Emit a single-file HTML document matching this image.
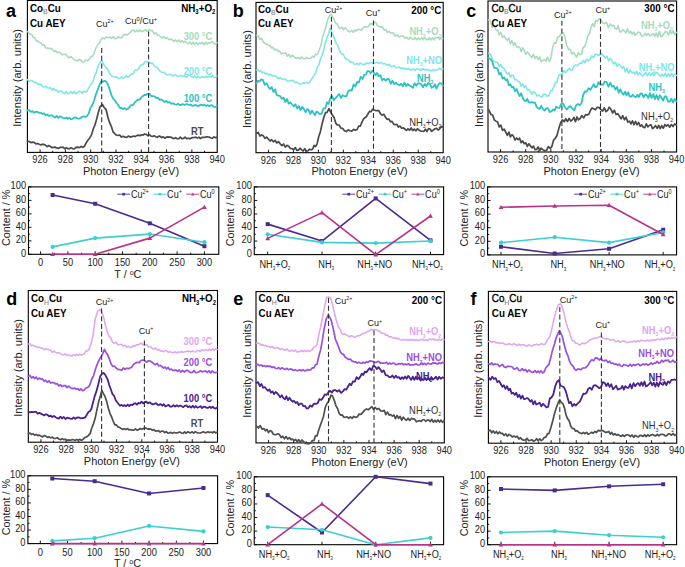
<!DOCTYPE html><html><head><meta charset="utf-8"><style>html,body{margin:0;padding:0;background:#fff;overflow:hidden}svg{display:block;font-family:"Liberation Sans",sans-serif}</style></head><body><svg width="685" height="567" viewBox="0 0 685 567" font-family="'Liberation Sans', sans-serif">
<rect width="685" height="567" fill="#fff"/>
<line x1="40.05" y1="152.40" x2="40.05" y2="149.40" stroke="#000" stroke-width="0.9" />
<line x1="52.71" y1="152.40" x2="52.71" y2="150.80" stroke="#000" stroke-width="0.9" />
<line x1="65.36" y1="152.40" x2="65.36" y2="149.40" stroke="#000" stroke-width="0.9" />
<line x1="78.01" y1="152.40" x2="78.01" y2="150.80" stroke="#000" stroke-width="0.9" />
<line x1="90.67" y1="152.40" x2="90.67" y2="149.40" stroke="#000" stroke-width="0.9" />
<line x1="103.32" y1="152.40" x2="103.32" y2="150.80" stroke="#000" stroke-width="0.9" />
<line x1="115.97" y1="152.40" x2="115.97" y2="149.40" stroke="#000" stroke-width="0.9" />
<line x1="128.63" y1="152.40" x2="128.63" y2="150.80" stroke="#000" stroke-width="0.9" />
<line x1="141.28" y1="152.40" x2="141.28" y2="149.40" stroke="#000" stroke-width="0.9" />
<line x1="153.93" y1="152.40" x2="153.93" y2="150.80" stroke="#000" stroke-width="0.9" />
<line x1="166.59" y1="152.40" x2="166.59" y2="149.40" stroke="#000" stroke-width="0.9" />
<line x1="179.24" y1="152.40" x2="179.24" y2="150.80" stroke="#000" stroke-width="0.9" />
<line x1="191.89" y1="152.40" x2="191.89" y2="149.40" stroke="#000" stroke-width="0.9" />
<line x1="204.55" y1="152.40" x2="204.55" y2="150.80" stroke="#000" stroke-width="0.9" />
<rect x="27.40" y="0.50" width="189.80" height="151.90" fill="none" stroke="#000" stroke-width="1.1"/>
<text transform="translate(40.05,163.20) scale(0.91,1)" font-size="10.2" text-anchor="middle" font-weight="normal" fill="#222" >926</text>
<text transform="translate(65.36,163.20) scale(0.91,1)" font-size="10.2" text-anchor="middle" font-weight="normal" fill="#222" >928</text>
<text transform="translate(90.67,163.20) scale(0.91,1)" font-size="10.2" text-anchor="middle" font-weight="normal" fill="#222" >930</text>
<text transform="translate(115.97,163.20) scale(0.91,1)" font-size="10.2" text-anchor="middle" font-weight="normal" fill="#222" >932</text>
<text transform="translate(141.28,163.20) scale(0.91,1)" font-size="10.2" text-anchor="middle" font-weight="normal" fill="#222" >934</text>
<text transform="translate(166.59,163.20) scale(0.91,1)" font-size="10.2" text-anchor="middle" font-weight="normal" fill="#222" >936</text>
<text transform="translate(191.89,163.20) scale(0.91,1)" font-size="10.2" text-anchor="middle" font-weight="normal" fill="#222" >938</text>
<text transform="translate(217.20,163.20) scale(0.91,1)" font-size="10.2" text-anchor="middle" font-weight="normal" fill="#222" >940</text>
<text x="131.00" y="175.00" font-size="10.95" text-anchor="middle" font-weight="normal" fill="#222" >Photon Energy (eV)</text>
<text x="21.40" y="77.95" font-size="11.15" text-anchor="middle" font-weight="normal" fill="#222" transform="rotate(-90 21.40 77.95)">Intensity (arb. units)</text>
<polyline points="27.40,31.50 30.00,34.00 31.55,34.15 33.10,37.53 34.65,37.43 36.20,40.95 37.75,40.74 39.30,42.60 40.88,42.75 42.47,45.00 44.05,44.45 45.63,47.98 47.22,48.03 48.80,48.60 50.50,48.31 52.20,49.15 53.90,51.45 55.60,50.66 57.30,52.87 59.00,51.99 60.70,53.30 62.40,54.85 64.10,54.22 65.80,54.34 67.50,56.58 69.20,57.95 70.90,56.58 72.60,58.00 74.17,59.76 75.73,60.07 77.30,60.95 78.87,59.46 80.43,59.80 82.00,61.70 83.83,62.11 85.65,59.85 87.47,60.73 89.30,59.30 90.87,56.33 92.43,56.40 94.00,53.30 95.80,48.29 97.60,45.00 99.40,43.21 101.20,39.00 102.97,37.92 104.75,38.88 106.53,37.04 108.30,37.90 109.97,36.88 111.64,38.48 113.31,36.48 114.99,38.86 116.66,38.54 118.33,36.51 120.00,37.90 121.70,37.75 123.40,34.87 125.10,34.41 126.80,35.04 128.50,33.93 130.20,32.67 131.90,30.70 133.60,29.86 135.30,32.00 137.00,30.09 138.70,31.60 140.40,29.94 142.10,31.75 143.80,30.70 145.60,29.82 147.40,31.34 149.20,29.69 151.00,30.70 152.58,30.47 154.17,33.95 155.75,32.42 157.33,35.19 158.92,35.28 160.50,36.70 162.20,37.86 163.90,36.65 165.60,38.67 167.30,37.75 169.00,39.88 170.70,38.83 172.40,40.20 173.99,41.36 175.58,39.93 177.17,41.60 178.76,39.93 180.34,42.15 181.93,40.55 183.52,42.49 185.11,41.19 186.70,42.60 188.29,43.87 189.88,41.90 191.47,44.41 193.06,42.20 194.64,44.34 196.23,42.40 197.82,44.59 199.41,42.96 201.00,43.80 202.60,42.37 204.20,44.85 205.80,42.06 207.40,44.15 209.00,42.79 210.60,42.64 212.20,41.56 213.80,43.42 215.40,44.13 217.00,42.60" fill="none" stroke="#a6dbbb" stroke-width="1.55" stroke-linejoin="round" stroke-linecap="round" />
<polyline points="27.40,79.50 29.10,81.40 30.80,80.44 32.50,80.54 34.20,82.87 35.90,82.03 37.60,84.11 39.30,84.30 40.88,84.19 42.47,86.76 44.05,86.95 45.63,86.11 47.22,87.67 48.80,87.90 50.39,87.78 51.98,90.11 53.57,88.61 55.16,90.36 56.74,90.04 58.33,92.29 59.92,91.04 61.51,91.00 63.10,92.60 64.69,93.78 66.28,91.53 67.87,93.84 69.46,93.10 71.04,91.60 72.63,93.43 74.22,91.41 75.81,93.71 77.40,92.60 78.98,91.25 80.57,91.43 82.15,93.19 83.73,91.01 85.32,92.25 86.90,91.40 88.40,88.52 89.90,86.06 91.40,83.64 92.90,81.90 94.47,76.14 96.03,73.19 97.60,67.60 99.65,63.16 101.70,60.50 103.85,64.59 106.00,67.60 107.57,68.80 109.13,72.82 110.70,74.80 112.30,76.58 113.90,76.86 115.50,77.10 117.00,77.10 118.50,78.50 120.00,78.30 121.58,76.77 123.17,78.36 124.75,77.72 126.33,75.62 127.92,77.39 129.50,76.00 131.30,73.82 133.10,73.96 134.90,70.28 136.70,70.00 138.36,69.35 140.02,66.10 141.68,64.53 143.34,64.34 145.00,61.70 146.50,61.61 148.00,61.81 149.50,63.26 151.00,62.90 152.78,63.35 154.55,66.51 156.32,66.57 158.10,68.80 159.68,70.82 161.27,71.84 162.85,72.79 164.43,72.24 166.02,74.44 167.60,74.80 169.30,74.21 171.00,74.68 172.70,76.02 174.40,75.00 176.10,75.07 177.80,76.56 179.50,76.00 181.20,75.24 182.90,76.60 184.60,75.80 186.30,77.33 188.00,75.26 189.70,75.34 191.40,76.70 193.10,77.51 194.80,75.93 196.50,77.95 198.20,76.35 199.90,77.81 201.60,76.66 203.30,77.10 204.82,77.43 206.34,76.29 207.87,77.25 209.39,76.06 210.91,77.26 212.43,75.43 213.96,77.42 215.48,77.14 217.00,76.00" fill="none" stroke="#7de6e6" stroke-width="1.55" stroke-linejoin="round" stroke-linecap="round" />
<polyline points="27.40,110.50 29.10,110.18 30.80,111.89 32.50,111.21 34.20,112.75 35.90,111.77 37.60,111.95 39.30,112.90 40.89,112.67 42.48,114.06 44.07,113.17 45.66,115.26 47.24,114.52 48.83,115.93 50.42,115.33 52.01,115.40 53.60,116.40 55.18,117.50 56.77,115.87 58.35,117.85 59.93,116.26 61.52,117.06 63.10,118.03 64.68,118.39 66.27,117.51 67.85,118.75 69.43,117.71 71.02,119.52 72.60,118.80 74.19,117.59 75.78,117.28 77.37,118.39 78.96,118.70 80.54,118.15 82.13,116.77 83.72,116.25 85.31,116.99 86.90,116.40 88.68,113.53 90.45,107.85 92.22,105.23 94.00,101.00 95.60,95.41 97.20,91.16 98.80,86.70 101.20,81.40 102.80,81.71 104.40,80.89 106.00,81.40 107.75,84.22 109.50,89.00 111.30,94.79 113.10,98.60 114.70,100.24 116.30,102.83 117.90,104.50 120.00,108.10 121.50,107.83 123.00,109.09 124.50,108.10 126.00,109.30 127.66,109.06 129.32,107.45 130.98,105.05 132.64,105.20 134.30,103.30 136.08,101.11 137.85,99.71 139.62,99.67 141.40,97.40 142.90,96.01 144.40,94.95 145.90,94.98 147.40,93.80 149.37,93.91 151.33,96.12 153.30,96.20 154.90,96.60 156.50,98.24 158.10,97.82 159.70,99.87 161.30,99.47 162.90,100.50 164.60,102.01 166.30,100.98 168.00,102.63 169.70,102.17 171.40,103.92 173.10,103.21 174.80,104.30 176.38,104.66 177.96,103.63 179.53,104.93 181.11,105.01 182.69,104.05 184.27,105.05 185.84,104.25 187.42,104.24 189.00,104.90 190.59,104.56 192.18,105.75 193.77,105.66 195.36,104.76 196.94,105.59 198.53,106.11 200.12,104.81 201.71,104.61 203.30,105.40 204.82,104.94 206.34,106.02 207.87,105.13 209.39,106.24 210.91,105.17 212.43,105.41 213.96,106.82 215.48,106.91 217.00,106.00" fill="none" stroke="#2dc3c3" stroke-width="1.8" stroke-linejoin="round" stroke-linecap="round" />
<polyline points="27.40,141.40 29.10,141.50 30.80,142.58 32.50,142.13 34.20,142.29 35.90,143.87 37.60,143.46 39.30,144.30 40.89,144.96 42.48,144.14 44.07,144.56 45.66,145.30 47.24,146.68 48.83,145.56 50.42,146.40 52.01,147.74 53.60,147.40 55.18,147.13 56.77,147.91 58.35,148.51 59.93,147.35 61.52,147.28 63.10,147.20 64.68,148.62 66.27,147.67 67.85,148.75 69.43,148.68 71.02,147.84 72.60,148.60 74.30,148.85 76.00,147.44 77.70,147.19 79.40,147.61 81.10,146.46 82.80,147.28 84.50,146.20 86.30,142.61 88.10,139.93 89.90,137.67 91.70,134.30 93.27,128.88 94.83,125.23 96.40,120.00 98.20,112.90 100.00,106.90 102.40,104.50 104.20,107.60 106.00,109.30 107.75,116.72 109.50,122.40 111.30,126.28 113.10,131.90 114.70,133.54 116.30,135.05 117.90,135.50 119.68,135.04 121.45,137.08 123.22,136.33 125.00,137.10 126.72,137.34 128.45,136.02 130.18,137.06 131.90,136.70 133.49,136.07 135.08,136.65 136.67,135.59 138.26,135.11 139.84,135.66 141.43,134.74 143.02,135.18 144.61,134.00 146.20,134.30 147.78,135.60 149.37,134.51 150.95,136.02 152.53,136.46 154.12,135.78 155.70,136.70 157.22,137.33 158.74,136.09 160.25,136.45 161.77,137.55 163.29,136.86 164.81,138.17 166.33,137.18 167.85,136.96 169.36,137.17 170.88,137.12 172.40,137.90 173.98,138.63 175.57,137.59 177.15,138.72 178.73,138.75 180.32,137.22 181.90,138.57 183.48,138.49 185.07,137.20 186.65,138.75 188.23,138.20 189.82,138.78 191.40,137.90 192.91,137.59 194.41,137.51 195.92,137.13 197.42,138.14 198.93,137.13 200.44,138.58 201.94,137.44 203.45,137.41 204.95,137.31 206.46,136.85 207.96,136.97 209.47,137.17 210.98,137.98 212.48,138.24 213.99,136.87 215.49,137.70 217.00,137.40" fill="none" stroke="#4a4a4a" stroke-width="1.7" stroke-linejoin="round" stroke-linecap="round" />
<line x1="101.70" y1="48.00" x2="101.70" y2="152.40" stroke="#333" stroke-width="1.1" stroke-dasharray="5,2.7"/>
<line x1="148.60" y1="31.50" x2="148.60" y2="152.40" stroke="#333" stroke-width="1.1" stroke-dasharray="5,2.7"/>
<text x="6.00" y="16.90" font-size="18" text-anchor="start" font-weight="bold" fill="#000" >a</text>
<text transform="translate(30.00,11.75) scale(0.87,1)" font-size="11.3" text-anchor="start" font-weight="bold" fill="#000" >Co<tspan dy="2.49" font-size="7.91" fill="#777" font-weight="normal" stroke="none">B</tspan><tspan dy="-2.49">Cu</tspan></text>
<text transform="translate(30.00,26.60) scale(0.87,1)" font-size="11.3" text-anchor="start" font-weight="bold" fill="#000" >Cu AEY</text>
<text transform="translate(215.30,11.70) scale(0.87,1)" font-size="11.3" text-anchor="end" font-weight="bold" fill="#000" >NH<tspan dy="2.49" font-size="6.78">3</tspan><tspan dy="-2.49">+O</tspan><tspan dy="2.49" font-size="6.78">2</tspan></text>
<text transform="translate(96.00,26.80) scale(0.93,1)" font-size="9.7" text-anchor="start" font-weight="normal" fill="#222" >Cu<tspan dy="-3.69" font-size="5.82">2+</tspan></text>
<text transform="translate(125.00,24.30) scale(0.93,1)" font-size="9.7" text-anchor="start" font-weight="normal" fill="#222" >Cu<tspan dy="-3.6" font-size="6.2">0</tspan><tspan dy="3.6">/Cu</tspan><tspan dy="-3.6" font-size="6.2">+</tspan></text>
<text transform="translate(212.30,40.00) scale(0.85,1)" font-size="11.0" text-anchor="end" font-weight="bold" fill="#a6dbbb" >300 °C</text>
<text transform="translate(212.30,74.80) scale(0.85,1)" font-size="11.0" text-anchor="end" font-weight="bold" fill="#7de6e6" >200 °C</text>
<text transform="translate(212.30,102.00) scale(0.85,1)" font-size="11.0" text-anchor="end" font-weight="bold" fill="#2dc3c3" >100 °C</text>
<text transform="translate(203.50,134.80) scale(0.85,1)" font-size="11.0" text-anchor="end" font-weight="bold" fill="#4a4a4a" >RT</text>
<line x1="268.48" y1="152.70" x2="268.48" y2="149.70" stroke="#000" stroke-width="0.9" />
<line x1="280.96" y1="152.70" x2="280.96" y2="151.10" stroke="#000" stroke-width="0.9" />
<line x1="293.44" y1="152.70" x2="293.44" y2="149.70" stroke="#000" stroke-width="0.9" />
<line x1="305.92" y1="152.70" x2="305.92" y2="151.10" stroke="#000" stroke-width="0.9" />
<line x1="318.40" y1="152.70" x2="318.40" y2="149.70" stroke="#000" stroke-width="0.9" />
<line x1="330.88" y1="152.70" x2="330.88" y2="151.10" stroke="#000" stroke-width="0.9" />
<line x1="343.36" y1="152.70" x2="343.36" y2="149.70" stroke="#000" stroke-width="0.9" />
<line x1="355.84" y1="152.70" x2="355.84" y2="151.10" stroke="#000" stroke-width="0.9" />
<line x1="368.32" y1="152.70" x2="368.32" y2="149.70" stroke="#000" stroke-width="0.9" />
<line x1="380.80" y1="152.70" x2="380.80" y2="151.10" stroke="#000" stroke-width="0.9" />
<line x1="393.28" y1="152.70" x2="393.28" y2="149.70" stroke="#000" stroke-width="0.9" />
<line x1="405.76" y1="152.70" x2="405.76" y2="151.10" stroke="#000" stroke-width="0.9" />
<line x1="418.24" y1="152.70" x2="418.24" y2="149.70" stroke="#000" stroke-width="0.9" />
<line x1="430.72" y1="152.70" x2="430.72" y2="151.10" stroke="#000" stroke-width="0.9" />
<rect x="256.00" y="2.40" width="187.20" height="150.30" fill="none" stroke="#000" stroke-width="1.1"/>
<text transform="translate(268.48,163.50) scale(0.91,1)" font-size="10.2" text-anchor="middle" font-weight="normal" fill="#222" >926</text>
<text transform="translate(293.44,163.50) scale(0.91,1)" font-size="10.2" text-anchor="middle" font-weight="normal" fill="#222" >928</text>
<text transform="translate(318.40,163.50) scale(0.91,1)" font-size="10.2" text-anchor="middle" font-weight="normal" fill="#222" >930</text>
<text transform="translate(343.36,163.50) scale(0.91,1)" font-size="10.2" text-anchor="middle" font-weight="normal" fill="#222" >932</text>
<text transform="translate(368.32,163.50) scale(0.91,1)" font-size="10.2" text-anchor="middle" font-weight="normal" fill="#222" >934</text>
<text transform="translate(393.28,163.50) scale(0.91,1)" font-size="10.2" text-anchor="middle" font-weight="normal" fill="#222" >936</text>
<text transform="translate(418.24,163.50) scale(0.91,1)" font-size="10.2" text-anchor="middle" font-weight="normal" fill="#222" >938</text>
<text transform="translate(443.20,163.50) scale(0.91,1)" font-size="10.2" text-anchor="middle" font-weight="normal" fill="#222" >940</text>
<text x="359.60" y="175.30" font-size="10.95" text-anchor="middle" font-weight="normal" fill="#222" >Photon Energy (eV)</text>
<text x="250.80" y="79.05" font-size="11.15" text-anchor="middle" font-weight="normal" fill="#222" transform="rotate(-90 250.80 79.05)">Intensity (arb. units)</text>
<polyline points="256.50,35.50 258.19,35.79 259.87,39.57 261.56,38.38 263.24,41.87 264.93,43.44 266.61,44.30 268.30,45.20 269.89,45.48 271.48,47.93 273.07,47.31 274.66,50.07 276.24,49.17 277.83,51.11 279.42,51.00 281.01,53.62 282.60,53.30 284.19,53.25 285.78,53.14 287.37,56.21 288.96,54.40 290.54,57.26 292.13,55.18 293.72,56.37 295.31,58.10 296.90,58.10 298.48,57.66 300.06,59.06 301.63,57.06 303.21,58.78 304.79,58.94 306.37,57.26 307.94,58.53 309.52,58.50 311.10,58.10 312.60,56.00 314.10,57.44 315.60,54.46 317.10,54.50 318.90,50.77 320.70,46.20 322.45,37.74 324.20,31.90 326.00,26.76 327.80,19.40 330.20,14.60 331.50,14.60 334.00,19.20 335.50,23.13 337.00,23.75 338.50,27.10 340.18,28.71 341.86,26.96 343.54,29.75 345.22,27.72 346.90,29.50 348.45,31.41 350.00,31.90 351.58,30.23 353.17,32.38 354.75,30.02 356.33,30.85 357.92,29.38 359.50,29.50 361.30,30.25 363.10,27.88 364.90,26.80 366.70,27.10 368.48,26.53 370.25,23.57 372.02,24.36 373.80,22.40 375.60,22.31 377.40,25.61 379.20,26.43 381.00,27.10 382.58,26.80 384.17,30.24 385.75,29.30 387.33,32.30 388.92,31.28 390.50,33.10 392.08,32.49 393.67,33.48 395.25,35.99 396.83,34.84 398.42,36.62 400.00,36.70 401.70,35.63 403.40,36.26 405.10,38.22 406.80,37.15 408.50,39.28 410.20,37.19 411.90,38.60 413.49,39.70 415.08,37.57 416.67,39.80 418.26,37.93 419.84,39.87 421.43,37.57 423.02,39.85 424.61,38.05 426.20,39.00 427.72,39.99 429.24,37.76 430.75,40.04 432.27,37.85 433.79,40.00 435.31,37.59 436.83,37.70 438.35,37.40 439.86,39.56 441.38,37.45 442.90,38.60" fill="none" stroke="#a6dbbb" stroke-width="1.55" stroke-linejoin="round" stroke-linecap="round" />
<polyline points="256.50,70.00 258.00,69.68 259.50,71.55 261.00,70.89 262.50,73.00 264.00,71.90 265.50,74.12 267.00,73.25 268.50,75.13 270.00,74.24 271.50,74.99 273.00,76.00 274.52,75.66 276.04,76.34 277.55,78.13 279.07,78.30 280.59,77.72 282.11,79.05 283.63,79.69 285.15,78.67 286.66,80.79 288.18,80.92 289.70,80.70 291.40,80.37 293.10,80.61 294.80,82.56 296.50,81.98 298.20,83.25 299.90,84.01 301.60,83.80 303.28,82.67 304.96,83.46 306.64,82.29 308.32,83.17 310.00,81.90 311.97,78.45 313.93,75.85 315.90,72.40 317.40,67.30 318.90,64.54 320.40,59.32 321.90,55.70 323.47,51.12 325.03,43.99 326.60,39.00 328.40,34.21 330.20,28.30 332.00,32.95 333.80,36.70 335.77,42.38 337.73,45.32 339.70,51.00 341.50,53.94 343.30,54.51 345.10,58.00 346.90,59.30 348.67,60.14 350.45,62.12 352.23,61.99 354.00,64.00 355.58,64.29 357.16,63.30 358.74,64.46 360.32,63.06 361.90,64.00 363.49,64.39 365.08,64.36 366.67,62.85 368.26,63.67 369.84,62.62 371.43,62.43 373.02,63.72 374.61,63.12 376.20,62.40 377.78,62.16 379.37,63.56 380.95,62.26 382.53,63.75 384.12,63.42 385.70,64.00 387.40,65.34 389.10,64.24 390.80,66.49 392.50,66.38 394.20,65.62 395.90,67.66 397.60,67.60 399.19,66.95 400.78,68.63 402.37,67.70 403.96,69.17 405.54,68.28 407.13,69.21 408.72,68.34 410.31,70.21 411.90,69.50 413.42,68.77 414.94,70.46 416.45,68.92 417.97,68.76 419.49,69.13 421.01,70.61 422.53,68.87 424.05,69.27 425.56,70.50 427.08,69.17 428.60,70.00 430.19,70.71 431.78,70.21 433.37,69.93 434.96,69.94 436.54,69.92 438.13,69.50 439.72,68.21 441.31,69.59 442.90,68.80" fill="none" stroke="#7de6e6" stroke-width="1.55" stroke-linejoin="round" stroke-linecap="round" />
<polyline points="256.50,83.10 258.03,80.86 259.57,81.59 261.10,79.50 262.90,79.84 264.70,84.84 266.50,83.30 268.30,86.70 270.00,88.98 271.70,87.05 273.40,91.96 275.10,89.53 276.80,95.01 278.50,95.68 280.20,96.20 281.90,98.70 283.60,97.59 285.30,102.10 287.00,99.06 288.70,103.60 290.40,102.44 292.10,104.50 293.80,106.34 295.50,104.29 297.20,108.45 298.90,105.91 300.60,110.04 302.30,106.74 304.00,109.30 305.58,112.36 307.17,109.19 308.75,110.12 310.33,113.93 311.92,110.60 313.50,112.90 315.00,115.23 316.50,111.58 318.00,112.36 319.50,114.00 321.47,113.94 323.43,108.43 325.40,108.10 327.00,102.34 328.60,103.81 330.20,98.60 331.98,95.88 333.75,100.09 335.52,98.10 337.30,96.20 339.10,94.15 340.90,97.85 342.70,95.22 344.50,96.20 346.33,96.45 348.17,90.97 350.00,90.20 351.77,90.57 353.55,84.42 355.33,86.45 357.10,81.90 358.90,82.56 360.70,76.79 362.50,79.05 364.30,74.80 365.87,74.64 367.43,71.20 369.00,71.20 370.60,73.30 372.20,70.74 373.80,72.40 375.40,75.17 377.00,72.95 378.60,76.00 380.38,75.08 382.15,80.30 383.93,78.67 385.70,80.70 387.40,78.94 389.10,79.42 390.80,83.77 392.50,80.77 394.20,84.15 395.90,82.72 397.60,84.30 399.30,85.32 401.00,83.60 402.70,86.27 404.40,82.53 406.10,86.20 407.80,83.90 409.50,85.50 411.20,86.32 412.90,87.84 414.60,83.29 416.30,85.76 418.00,83.38 419.70,83.41 421.40,84.30 423.10,87.25 424.80,83.95 426.50,86.13 428.20,83.01 429.90,83.91 431.60,87.82 433.30,86.70 434.90,84.24 436.50,88.57 438.10,84.92 439.70,83.23 441.30,83.38 442.90,85.50" fill="none" stroke="#2dc3c3" stroke-width="1.8" stroke-linejoin="round" stroke-linecap="round" />
<polyline points="256.50,133.10 258.19,132.45 259.87,135.99 261.56,134.93 263.24,135.82 264.93,138.25 266.61,137.19 268.30,139.00 270.00,141.03 271.70,139.69 273.40,141.78 275.10,140.32 276.80,142.98 278.50,141.59 280.20,143.80 281.90,145.60 283.60,144.02 285.30,147.05 287.00,145.40 288.70,146.16 290.40,148.41 292.10,148.60 293.68,149.76 295.27,147.53 296.85,150.43 298.43,150.14 300.02,148.20 301.60,149.80 303.18,151.07 304.77,148.61 306.35,151.27 307.93,150.78 309.52,149.21 311.10,149.80 312.60,149.29 314.10,145.38 315.60,146.50 317.10,143.80 318.70,136.77 320.30,131.94 321.90,124.80 323.65,117.96 325.40,112.90 327.20,112.10 329.00,108.60 330.80,112.52 332.60,115.20 334.17,117.79 335.73,123.10 337.30,124.80 339.10,125.00 340.90,128.19 342.70,128.42 344.50,130.70 346.33,131.61 348.17,129.82 350.00,130.70 351.77,131.29 353.55,129.36 355.33,130.32 357.10,129.50 358.70,126.13 360.30,126.08 361.90,122.40 363.40,119.09 364.90,117.71 366.40,116.68 367.90,114.00 369.47,111.37 371.03,111.68 372.60,109.30 374.10,110.03 375.60,110.56 377.10,110.66 378.60,110.50 380.38,113.54 382.15,115.12 383.93,114.33 385.70,117.60 387.28,119.32 388.87,119.03 390.45,121.80 392.03,121.33 393.62,124.16 395.20,124.80 396.80,124.27 398.40,127.15 400.00,126.08 401.60,128.24 403.20,127.76 404.80,129.00 406.38,130.32 407.96,128.77 409.53,130.24 411.11,127.95 412.69,130.54 414.27,129.02 415.84,130.78 417.42,128.75 419.00,130.00 420.59,131.10 422.18,131.25 423.77,131.51 425.36,129.25 426.94,131.50 428.53,128.53 430.12,129.00 431.71,131.48 433.30,130.00 434.90,128.76 436.50,128.39 438.10,130.03 439.70,128.84 441.30,126.48 442.90,127.10" fill="none" stroke="#4a4a4a" stroke-width="1.7" stroke-linejoin="round" stroke-linecap="round" />
<line x1="331.40" y1="16.80" x2="331.40" y2="152.70" stroke="#333" stroke-width="1.1" stroke-dasharray="5,2.7"/>
<line x1="373.50" y1="20.60" x2="373.50" y2="152.70" stroke="#333" stroke-width="1.1" stroke-dasharray="5,2.7"/>
<text x="232.70" y="16.90" font-size="18" text-anchor="start" font-weight="bold" fill="#000" >b</text>
<text transform="translate(257.90,12.60) scale(0.87,1)" font-size="11.3" text-anchor="start" font-weight="bold" fill="#000" >Co<tspan dy="2.49" font-size="7.91" fill="#777" font-weight="normal" stroke="none">B</tspan><tspan dy="-2.49">Cu</tspan></text>
<text transform="translate(257.90,27.30) scale(0.87,1)" font-size="11.3" text-anchor="start" font-weight="bold" fill="#000" >Cu AEY</text>
<text transform="translate(441.40,13.60) scale(0.87,1)" font-size="11.3" text-anchor="end" font-weight="bold" fill="#000" >200 °C</text>
<text transform="translate(324.70,13.20) scale(0.93,1)" font-size="9.7" text-anchor="start" font-weight="normal" fill="#222" >Cu<tspan dy="-3.69" font-size="5.82">2+</tspan></text>
<text transform="translate(365.70,16.00) scale(0.93,1)" font-size="9.7" text-anchor="start" font-weight="normal" fill="#222" >Cu<tspan dy="-3.69" font-size="5.82">+</tspan></text>
<text transform="translate(441.30,35.40) scale(0.85,1)" font-size="11.0" text-anchor="end" font-weight="bold" fill="#a6dbbb" >NH<tspan dy="2.42" font-size="6.05">3</tspan><tspan dy="-2.42">+O</tspan><tspan dy="2.42" font-size="6.05">2</tspan></text>
<text transform="translate(442.00,64.00) scale(0.85,1)" font-size="11.0" text-anchor="end" font-weight="bold" fill="#7de6e6" >NH<tspan dy="2.42" font-size="6.05">3</tspan><tspan dy="-2.42">+NO</tspan></text>
<text transform="translate(433.30,81.80) scale(0.85,1)" font-size="11.0" text-anchor="end" font-weight="bold" fill="#2dc3c3" >NH<tspan dy="2.42" font-size="6.05">3</tspan><tspan dy="-2.42"></tspan></text>
<text transform="translate(441.30,126.10) scale(0.92,1)" font-size="10.2" text-anchor="end" font-weight="normal" fill="#333" >NH<tspan dy="2.24" font-size="5.61">3</tspan><tspan dy="-2.24">+O</tspan><tspan dy="2.24" font-size="5.61">2</tspan></text>
<line x1="500.57" y1="152.00" x2="500.57" y2="149.00" stroke="#000" stroke-width="0.9" />
<line x1="513.15" y1="152.00" x2="513.15" y2="150.40" stroke="#000" stroke-width="0.9" />
<line x1="525.72" y1="152.00" x2="525.72" y2="149.00" stroke="#000" stroke-width="0.9" />
<line x1="538.29" y1="152.00" x2="538.29" y2="150.40" stroke="#000" stroke-width="0.9" />
<line x1="550.87" y1="152.00" x2="550.87" y2="149.00" stroke="#000" stroke-width="0.9" />
<line x1="563.44" y1="152.00" x2="563.44" y2="150.40" stroke="#000" stroke-width="0.9" />
<line x1="576.01" y1="152.00" x2="576.01" y2="149.00" stroke="#000" stroke-width="0.9" />
<line x1="588.59" y1="152.00" x2="588.59" y2="150.40" stroke="#000" stroke-width="0.9" />
<line x1="601.16" y1="152.00" x2="601.16" y2="149.00" stroke="#000" stroke-width="0.9" />
<line x1="613.73" y1="152.00" x2="613.73" y2="150.40" stroke="#000" stroke-width="0.9" />
<line x1="626.31" y1="152.00" x2="626.31" y2="149.00" stroke="#000" stroke-width="0.9" />
<line x1="638.88" y1="152.00" x2="638.88" y2="150.40" stroke="#000" stroke-width="0.9" />
<line x1="651.45" y1="152.00" x2="651.45" y2="149.00" stroke="#000" stroke-width="0.9" />
<line x1="664.03" y1="152.00" x2="664.03" y2="150.40" stroke="#000" stroke-width="0.9" />
<rect x="488.00" y="1.00" width="188.60" height="151.00" fill="none" stroke="#000" stroke-width="1.1"/>
<text transform="translate(500.57,162.80) scale(0.91,1)" font-size="10.2" text-anchor="middle" font-weight="normal" fill="#222" >926</text>
<text transform="translate(525.72,162.80) scale(0.91,1)" font-size="10.2" text-anchor="middle" font-weight="normal" fill="#222" >928</text>
<text transform="translate(550.87,162.80) scale(0.91,1)" font-size="10.2" text-anchor="middle" font-weight="normal" fill="#222" >930</text>
<text transform="translate(576.01,162.80) scale(0.91,1)" font-size="10.2" text-anchor="middle" font-weight="normal" fill="#222" >932</text>
<text transform="translate(601.16,162.80) scale(0.91,1)" font-size="10.2" text-anchor="middle" font-weight="normal" fill="#222" >934</text>
<text transform="translate(626.31,162.80) scale(0.91,1)" font-size="10.2" text-anchor="middle" font-weight="normal" fill="#222" >936</text>
<text transform="translate(651.45,162.80) scale(0.91,1)" font-size="10.2" text-anchor="middle" font-weight="normal" fill="#222" >938</text>
<text transform="translate(676.60,162.80) scale(0.91,1)" font-size="10.2" text-anchor="middle" font-weight="normal" fill="#222" >940</text>
<text x="591.60" y="174.60" font-size="10.95" text-anchor="middle" font-weight="normal" fill="#222" >Photon Energy (eV)</text>
<text x="482.50" y="78.00" font-size="11.15" text-anchor="middle" font-weight="normal" fill="#222" transform="rotate(-90 482.50 78.00)">Intensity (arb. units)</text>
<polyline points="488.50,19.90 490.35,20.80 492.20,27.45 494.05,25.48 495.90,29.80 497.55,30.28 499.20,34.78 500.85,32.56 502.50,37.34 504.15,35.92 505.80,38.50 507.34,40.61 508.88,37.93 510.41,44.14 511.95,40.45 513.49,45.28 515.02,42.64 516.56,47.01 518.10,47.10 519.64,46.94 521.17,51.73 522.71,47.68 524.25,50.49 525.79,54.30 527.33,51.87 528.86,53.59 530.40,55.70 531.95,57.38 533.50,54.29 535.05,58.39 536.60,56.28 538.15,59.80 539.70,56.73 541.25,61.70 542.80,60.70 544.38,59.45 545.96,61.34 547.54,57.13 549.12,61.61 550.70,59.40 552.70,47.10 554.33,42.69 555.97,43.37 557.60,37.20 559.45,36.40 561.30,33.50 563.15,32.57 565.00,37.20 566.85,45.47 568.70,49.60 570.25,49.26 571.80,54.08 573.35,52.29 574.90,54.50 576.60,57.10 578.30,52.76 580.00,54.50 581.55,54.28 583.10,47.51 584.65,46.76 586.20,42.20 587.83,35.99 589.47,33.74 591.10,27.30 592.65,23.67 594.20,26.68 595.75,20.30 597.30,21.20 599.15,18.72 601.00,19.90 602.85,23.07 604.70,23.60 606.55,22.54 608.40,27.66 610.25,23.90 612.10,26.10 613.64,25.14 615.17,28.48 616.71,29.28 618.25,25.72 619.79,31.93 621.33,31.84 622.86,29.46 624.40,31.00 625.95,32.92 627.50,28.81 629.05,33.03 630.60,31.16 632.15,34.52 633.70,31.94 635.25,35.45 636.80,33.50 638.44,32.05 640.09,32.64 641.73,36.34 643.38,35.91 645.02,33.32 646.67,35.53 648.31,33.54 649.96,35.92 651.60,34.80 653.15,33.47 654.70,36.44 656.25,33.15 657.80,36.92 659.35,31.23 660.90,36.69 662.45,35.59 664.00,33.50 665.54,31.43 667.08,32.26 668.61,34.98 670.15,30.59 671.69,33.76 673.22,30.86 674.76,34.57 676.30,32.30" fill="none" stroke="#a6dbbb" stroke-width="1.55" stroke-linejoin="round" stroke-linecap="round" />
<polyline points="488.50,53.30 490.35,54.08 492.20,58.60 494.05,61.79 495.90,61.90 497.55,62.63 499.20,66.40 500.85,64.59 502.50,67.77 504.15,68.48 505.80,71.80 507.34,74.17 508.88,72.85 510.41,77.28 511.95,74.80 513.49,75.70 515.02,79.95 516.56,79.59 518.10,81.70 519.64,81.76 521.17,86.32 522.71,83.80 524.25,87.36 525.79,85.75 527.33,90.08 528.86,89.56 530.40,91.50 532.05,94.37 533.70,91.62 535.35,93.10 537.00,96.12 538.65,94.83 540.30,96.50 542.04,97.05 543.78,93.97 545.52,94.34 547.26,96.52 549.00,95.20 550.63,90.64 552.27,90.32 553.90,86.60 555.45,82.60 557.00,82.49 558.55,75.91 560.10,74.30 561.95,74.76 563.80,70.60 565.65,72.71 567.50,70.60 569.15,68.36 570.80,70.24 572.45,69.89 574.10,65.73 575.75,64.90 577.40,65.60 580.00,63.10 581.65,63.24 583.30,60.44 584.95,62.61 586.60,59.07 588.25,60.95 589.90,59.40 591.75,55.89 593.60,57.66 595.45,54.17 597.30,54.50 598.85,55.61 600.40,53.68 601.95,53.93 603.50,55.70 605.22,58.09 606.94,56.29 608.66,60.87 610.38,58.33 612.10,60.70 613.75,64.12 615.40,62.12 617.05,66.21 618.70,63.99 620.35,65.41 622.00,68.10 623.65,66.64 625.30,71.83 626.95,68.40 628.60,73.56 630.25,69.91 631.90,73.00 633.44,72.03 634.98,74.21 636.51,71.28 638.05,74.89 639.59,72.83 641.12,74.79 642.66,76.29 644.20,74.30 645.84,72.45 647.49,75.94 649.13,72.69 650.78,75.62 652.42,72.87 654.07,75.64 655.71,72.56 657.36,72.99 659.00,74.80 660.57,76.23 662.15,74.18 663.72,76.41 665.29,73.34 666.86,76.94 668.44,73.67 670.01,76.64 671.58,73.43 673.15,76.78 674.73,73.98 676.30,75.50" fill="none" stroke="#7de6e6" stroke-width="1.55" stroke-linejoin="round" stroke-linecap="round" />
<polyline points="488.50,58.20 490.35,58.83 492.20,61.49 494.05,67.52 495.90,68.10 497.55,68.40 499.20,74.50 500.85,72.91 502.50,78.63 504.15,77.52 505.80,80.40 507.34,79.32 508.88,85.45 510.41,84.27 511.95,87.47 513.49,86.93 515.02,91.35 516.56,88.86 518.10,92.80 519.64,96.04 521.17,93.23 522.71,97.80 524.25,100.44 525.79,101.12 527.33,99.03 528.86,102.35 530.40,102.70 531.95,101.93 533.50,102.72 535.05,102.59 536.60,106.91 538.15,108.18 539.70,108.80 541.25,106.06 542.80,108.80 544.52,110.58 546.24,108.40 547.96,108.07 549.68,112.03 551.40,111.30 552.95,109.51 554.50,110.55 556.05,106.90 557.60,107.60 559.45,107.93 561.30,103.90 563.15,103.74 565.00,107.60 566.85,109.47 568.70,106.92 570.55,106.18 572.40,108.80 574.25,110.35 576.10,105.43 577.95,104.02 579.80,105.10 581.50,103.25 583.20,94.78 584.90,91.50 586.75,91.67 588.60,88.16 590.45,89.71 592.30,86.60 593.80,84.18 595.30,87.23 596.80,86.79 598.30,82.16 599.80,84.10 601.43,84.35 603.07,84.84 604.70,81.70 606.55,81.80 608.40,86.73 610.25,82.77 612.10,86.60 613.75,85.71 615.40,89.62 617.05,87.07 618.70,92.86 620.35,89.41 622.00,92.80 623.54,94.58 625.08,91.57 626.61,95.38 628.15,92.24 629.69,96.41 631.22,96.72 632.76,94.76 634.30,96.50 635.85,97.21 637.40,94.71 638.95,97.02 640.50,93.36 642.05,93.66 643.60,97.41 645.15,94.54 646.70,95.20 648.34,98.00 649.99,93.13 651.63,98.02 653.28,94.14 654.92,99.29 656.57,95.05 658.21,99.65 659.86,95.30 661.50,97.70 663.14,100.65 664.79,96.44 666.43,96.48 668.08,101.64 669.72,101.62 671.37,98.67 673.01,102.52 674.66,98.99 676.30,101.40" fill="none" stroke="#2dc3c3" stroke-width="1.8" stroke-linejoin="round" stroke-linecap="round" />
<polyline points="488.50,109.50 491.00,114.50 492.63,114.97 494.27,119.86 495.90,121.20 497.55,121.77 499.20,126.92 500.85,125.08 502.50,130.37 504.15,129.06 505.80,132.30 507.34,135.41 508.88,132.12 510.41,136.89 511.95,134.67 513.49,136.24 515.02,140.05 516.56,137.97 518.10,139.70 519.64,138.23 521.17,142.62 522.71,140.85 524.25,143.73 525.79,142.84 527.33,146.38 528.86,143.77 530.40,145.90 531.95,147.82 533.50,146.12 535.05,149.57 536.60,149.52 538.15,146.95 539.70,150.46 541.25,148.09 542.80,149.60 544.65,150.79 546.50,150.45 548.35,146.58 550.20,148.30 551.83,146.56 553.47,140.39 555.10,138.50 556.95,135.50 558.80,128.60 560.65,122.67 562.50,119.90 564.15,121.73 565.80,118.78 567.45,121.63 569.10,118.47 570.75,121.03 572.40,119.90 573.92,117.39 575.44,121.69 576.96,116.97 578.48,119.91 580.00,118.70 581.85,115.58 583.70,117.95 585.55,114.70 587.40,115.00 588.95,114.11 590.50,110.20 592.05,108.01 593.60,108.80 595.45,109.69 597.30,107.22 599.15,107.67 601.00,109.60 602.65,111.09 604.30,107.79 605.95,111.70 607.60,110.32 609.25,107.22 610.90,109.30 612.62,112.93 614.34,110.23 616.06,114.45 617.78,113.74 619.50,116.20 621.15,118.86 622.80,115.72 624.45,119.76 626.10,117.23 627.75,122.07 629.40,121.20 630.94,123.94 632.48,120.77 634.01,124.76 635.55,121.42 637.09,124.79 638.62,122.37 640.16,126.29 641.70,124.90 643.25,127.20 644.80,127.69 646.35,123.82 647.90,126.92 649.45,125.22 651.00,124.89 652.55,128.70 654.10,127.30 655.64,125.60 657.17,128.32 658.71,125.51 660.25,128.51 661.79,125.75 663.33,128.23 664.86,124.49 666.40,126.10 668.05,124.63 669.70,127.17 671.35,124.55 673.00,126.53 674.65,123.90 676.30,124.90" fill="none" stroke="#4a4a4a" stroke-width="1.7" stroke-linejoin="round" stroke-linecap="round" />
<line x1="561.90" y1="20.80" x2="561.90" y2="152.00" stroke="#333" stroke-width="1.1" stroke-dasharray="5,2.7"/>
<line x1="600.50" y1="18.70" x2="600.50" y2="152.00" stroke="#333" stroke-width="1.1" stroke-dasharray="5,2.7"/>
<text x="466.30" y="16.80" font-size="18" text-anchor="start" font-weight="bold" fill="#000" >c</text>
<text transform="translate(491.40,11.75) scale(0.87,1)" font-size="11.3" text-anchor="start" font-weight="normal" fill="#000" stroke="#000" stroke-width="0.35">Co<tspan dy="2.49" font-size="7.91" fill="#777" font-weight="normal" stroke="none">B</tspan><tspan dy="-2.49">Cu</tspan></text>
<text transform="translate(491.40,26.90) scale(0.87,1)" font-size="11.3" text-anchor="start" font-weight="bold" fill="#000" >Cu AEY</text>
<text transform="translate(674.50,11.90) scale(0.87,1)" font-size="11.3" text-anchor="end" font-weight="bold" fill="#000" >300 °C</text>
<text transform="translate(554.00,17.50) scale(0.93,1)" font-size="9.7" text-anchor="start" font-weight="normal" fill="#222" >Cu<tspan dy="-3.69" font-size="5.82">2+</tspan></text>
<text transform="translate(595.40,13.40) scale(0.93,1)" font-size="9.7" text-anchor="start" font-weight="normal" fill="#222" >Cu<tspan dy="-3.69" font-size="5.82">+</tspan></text>
<text transform="translate(672.90,29.00) scale(0.85,1)" font-size="11.0" text-anchor="end" font-weight="bold" fill="#a6dbbb" >NH<tspan dy="2.42" font-size="6.05">3</tspan><tspan dy="-2.42">+O</tspan><tspan dy="2.42" font-size="6.05">2</tspan></text>
<text transform="translate(674.50,70.80) scale(0.85,1)" font-size="11.0" text-anchor="end" font-weight="bold" fill="#7de6e6" >NH<tspan dy="2.42" font-size="6.05">3</tspan><tspan dy="-2.42">+NO</tspan></text>
<text transform="translate(664.80,90.50) scale(0.85,1)" font-size="11.0" text-anchor="end" font-weight="bold" fill="#2dc3c3" >NH<tspan dy="2.42" font-size="6.05">3</tspan><tspan dy="-2.42"></tspan></text>
<text transform="translate(673.20,119.80) scale(0.92,1)" font-size="10.2" text-anchor="end" font-weight="normal" fill="#333" >NH<tspan dy="2.24" font-size="5.61">3</tspan><tspan dy="-2.24">+O</tspan><tspan dy="2.24" font-size="5.61">2</tspan></text>
<line x1="40.91" y1="442.20" x2="40.91" y2="439.20" stroke="#000" stroke-width="0.9" />
<line x1="53.53" y1="442.20" x2="53.53" y2="440.60" stroke="#000" stroke-width="0.9" />
<line x1="66.14" y1="442.20" x2="66.14" y2="439.20" stroke="#000" stroke-width="0.9" />
<line x1="78.75" y1="442.20" x2="78.75" y2="440.60" stroke="#000" stroke-width="0.9" />
<line x1="91.37" y1="442.20" x2="91.37" y2="439.20" stroke="#000" stroke-width="0.9" />
<line x1="103.98" y1="442.20" x2="103.98" y2="440.60" stroke="#000" stroke-width="0.9" />
<line x1="116.59" y1="442.20" x2="116.59" y2="439.20" stroke="#000" stroke-width="0.9" />
<line x1="129.21" y1="442.20" x2="129.21" y2="440.60" stroke="#000" stroke-width="0.9" />
<line x1="141.82" y1="442.20" x2="141.82" y2="439.20" stroke="#000" stroke-width="0.9" />
<line x1="154.43" y1="442.20" x2="154.43" y2="440.60" stroke="#000" stroke-width="0.9" />
<line x1="167.05" y1="442.20" x2="167.05" y2="439.20" stroke="#000" stroke-width="0.9" />
<line x1="179.66" y1="442.20" x2="179.66" y2="440.60" stroke="#000" stroke-width="0.9" />
<line x1="192.27" y1="442.20" x2="192.27" y2="439.20" stroke="#000" stroke-width="0.9" />
<line x1="204.89" y1="442.20" x2="204.89" y2="440.60" stroke="#000" stroke-width="0.9" />
<rect x="28.30" y="290.50" width="189.20" height="151.70" fill="none" stroke="#000" stroke-width="1.1"/>
<text transform="translate(40.91,453.00) scale(0.91,1)" font-size="10.2" text-anchor="middle" font-weight="normal" fill="#222" >926</text>
<text transform="translate(66.14,453.00) scale(0.91,1)" font-size="10.2" text-anchor="middle" font-weight="normal" fill="#222" >928</text>
<text transform="translate(91.37,453.00) scale(0.91,1)" font-size="10.2" text-anchor="middle" font-weight="normal" fill="#222" >930</text>
<text transform="translate(116.59,453.00) scale(0.91,1)" font-size="10.2" text-anchor="middle" font-weight="normal" fill="#222" >932</text>
<text transform="translate(141.82,453.00) scale(0.91,1)" font-size="10.2" text-anchor="middle" font-weight="normal" fill="#222" >934</text>
<text transform="translate(167.05,453.00) scale(0.91,1)" font-size="10.2" text-anchor="middle" font-weight="normal" fill="#222" >936</text>
<text transform="translate(192.27,453.00) scale(0.91,1)" font-size="10.2" text-anchor="middle" font-weight="normal" fill="#222" >938</text>
<text transform="translate(217.50,453.00) scale(0.91,1)" font-size="10.2" text-anchor="middle" font-weight="normal" fill="#222" >940</text>
<text x="131.90" y="464.80" font-size="10.95" text-anchor="middle" font-weight="normal" fill="#222" >Photon Energy (eV)</text>
<text x="21.60" y="367.85" font-size="11.15" text-anchor="middle" font-weight="normal" fill="#222" transform="rotate(-90 21.60 367.85)">Intensity (arb. units)</text>
<polyline points="28.50,344.00 30.04,343.76 31.57,345.93 33.11,345.14 34.65,346.54 36.19,346.26 37.72,347.58 39.26,347.09 40.80,348.20 42.44,347.96 44.09,349.61 45.73,348.70 47.38,349.22 49.02,349.73 50.67,350.16 52.31,352.35 53.96,351.12 55.60,352.40 57.24,353.34 58.89,352.53 60.53,353.83 62.18,354.67 63.82,354.95 65.47,353.72 67.11,355.65 68.76,354.84 70.40,355.60 71.95,356.10 73.50,354.70 75.05,355.71 76.60,354.37 78.15,355.29 79.70,354.16 81.25,355.29 82.80,354.40 84.35,353.70 85.90,350.96 87.45,351.03 89.00,349.40 90.85,344.12 92.70,337.10 95.10,319.80 97.60,311.20 100.10,309.40 102.50,313.60 104.17,319.41 105.83,326.90 107.50,332.20 109.13,336.32 110.77,337.85 112.40,342.00 114.25,343.41 116.10,342.28 117.95,344.67 119.80,344.50 121.48,344.28 123.17,346.20 124.85,345.20 126.53,346.99 128.22,346.24 129.90,347.50 131.55,347.35 133.20,345.60 134.85,346.41 136.50,344.58 138.15,344.92 139.80,344.00 141.43,343.18 143.07,344.82 144.70,344.50 146.55,344.72 148.40,346.96 150.25,346.40 152.10,348.20 153.75,349.13 155.40,348.06 157.05,350.06 158.70,349.38 160.35,350.92 162.00,350.70 163.65,351.79 165.30,350.50 166.95,351.09 168.60,352.36 170.25,351.64 171.90,352.40 173.44,352.86 174.97,351.72 176.51,353.03 178.05,351.87 179.59,352.50 181.12,351.35 182.66,352.44 184.20,351.90 185.84,351.39 187.49,351.28 189.13,351.07 190.78,351.92 192.42,350.87 194.07,351.69 195.71,351.95 197.36,350.18 199.00,350.70 200.52,351.44 202.03,349.57 203.55,350.74 205.07,349.81 206.58,349.78 208.10,350.59 209.62,349.09 211.13,350.62 212.65,348.78 214.17,350.55 215.68,348.82 217.20,349.40" fill="none" stroke="#dfa6f2" stroke-width="1.55" stroke-linejoin="round" stroke-linecap="round" />
<polyline points="28.50,376.10 30.04,375.49 31.57,378.06 33.11,376.64 34.65,378.55 36.19,377.00 37.72,379.41 39.26,378.17 40.80,379.10 42.44,378.97 44.09,381.27 45.73,380.25 47.38,382.23 49.02,380.88 50.67,383.02 52.31,382.38 53.96,382.74 55.60,384.00 57.24,383.66 58.89,385.97 60.53,384.78 62.18,386.57 63.82,385.62 65.47,385.65 67.11,387.64 68.76,386.21 70.40,387.70 71.91,388.42 73.42,388.69 74.93,388.16 76.44,389.26 77.96,388.65 79.47,390.34 80.98,388.88 82.49,390.67 84.00,390.20 85.55,388.21 87.10,387.66 88.65,386.75 90.20,384.00 91.83,378.99 93.47,375.80 95.10,370.40 96.77,365.31 98.43,361.46 100.10,358.10 102.30,354.62 104.50,349.40 106.00,352.49 107.50,354.40 109.35,358.83 111.20,364.30 112.83,366.31 114.47,366.06 116.10,368.00 118.05,369.48 120.00,369.70 121.65,370.30 123.30,367.93 124.95,369.43 126.60,368.08 128.25,368.84 129.90,368.00 131.75,367.17 133.60,364.25 135.45,363.11 137.30,362.30 139.15,362.56 141.00,360.56 142.85,359.99 144.70,360.60 146.55,362.14 148.40,360.75 150.25,361.03 152.10,362.30 153.75,363.67 155.40,364.67 157.05,363.30 158.70,365.89 160.35,365.52 162.00,366.70 163.54,368.14 165.07,367.04 166.61,368.93 168.15,367.49 169.69,369.70 171.23,369.01 172.76,370.42 174.30,370.40 175.94,370.06 177.59,371.24 179.23,369.89 180.88,372.18 182.52,370.27 184.17,371.99 185.81,370.63 187.46,370.42 189.10,371.70 190.76,372.61 192.41,372.43 194.07,370.39 195.72,372.72 197.38,372.53 199.03,371.78 200.69,370.68 202.34,371.95 204.00,371.20 205.65,370.97 207.30,372.51 208.95,370.74 210.60,372.93 212.25,370.86 213.90,372.30 215.55,372.64 217.20,372.20" fill="none" stroke="#9b4fdd" stroke-width="1.7" stroke-linejoin="round" stroke-linecap="round" />
<polyline points="28.50,411.90 30.04,412.42 31.57,411.90 33.11,412.22 34.65,411.92 36.19,411.88 37.72,413.74 39.26,412.87 40.80,413.60 42.44,414.49 44.09,415.40 45.73,414.36 47.38,414.55 49.02,416.31 50.67,415.71 52.31,417.06 53.96,415.86 55.60,417.30 57.24,418.06 58.89,418.67 60.53,416.70 62.18,418.29 63.82,416.99 65.47,419.03 67.11,417.63 68.76,418.08 70.40,418.60 72.06,418.79 73.71,417.36 75.37,418.78 77.02,417.58 78.68,417.30 80.33,418.28 81.99,418.14 83.64,418.01 85.30,417.30 86.83,414.79 88.35,412.08 89.88,411.24 91.40,408.70 93.07,402.34 94.73,396.14 96.40,391.40 98.25,384.52 100.10,376.60 101.95,373.75 103.80,372.90 105.65,375.58 107.50,379.10 109.13,384.71 110.77,389.30 112.40,393.90 114.07,395.81 115.73,400.29 117.40,402.50 120.00,405.70 121.54,404.85 123.08,406.02 124.61,405.13 126.15,406.16 127.69,404.69 129.23,406.03 130.76,404.54 132.30,405.00 133.85,403.70 135.40,403.25 136.95,404.70 138.50,402.90 140.05,403.54 141.60,401.68 143.15,403.39 144.70,402.00 146.35,401.75 148.00,403.37 149.65,402.33 151.30,403.63 152.95,404.37 154.60,403.80 156.14,403.09 157.68,404.84 159.21,404.91 160.75,404.18 162.29,405.71 163.82,404.22 165.36,406.38 166.90,405.70 168.54,404.84 170.19,406.62 171.83,406.68 173.48,405.19 175.12,406.57 176.77,405.30 178.41,406.48 180.06,405.48 181.70,406.20 183.27,407.12 184.85,405.78 186.42,405.35 187.99,407.11 189.56,406.16 191.14,407.72 192.71,405.69 194.28,407.69 195.85,406.05 197.43,407.76 199.00,407.00 200.52,406.18 202.03,408.07 203.55,406.70 205.07,406.82 206.58,407.84 208.10,407.84 209.62,406.60 211.13,408.00 212.65,406.61 214.17,408.05 215.68,408.52 217.20,407.50" fill="none" stroke="#4a2190" stroke-width="1.8" stroke-linejoin="round" stroke-linecap="round" />
<polyline points="28.50,433.40 30.04,433.21 31.57,434.51 33.11,433.73 34.65,435.25 36.19,434.56 37.72,435.58 39.26,435.18 40.80,435.90 42.44,436.95 44.09,435.69 45.73,436.08 47.38,437.46 49.02,436.84 50.67,437.91 52.31,437.08 53.96,438.51 55.60,438.30 57.24,437.74 58.89,439.00 60.53,439.68 62.18,438.66 63.82,439.73 65.47,439.14 67.11,440.49 68.76,439.85 70.40,440.30 71.95,439.70 73.50,439.62 75.05,440.53 76.60,439.43 78.15,440.17 79.70,439.31 81.25,440.23 82.80,439.60 84.65,437.59 86.50,437.02 88.35,435.63 90.20,433.40 91.83,427.76 93.47,423.82 95.10,418.60 96.95,409.65 98.80,401.30 100.30,396.34 101.80,390.20 103.40,393.59 105.00,396.40 106.67,401.36 108.33,408.18 110.00,413.60 111.63,416.96 113.27,421.30 114.90,424.80 116.45,424.96 118.00,426.96 119.55,427.33 121.10,428.50 122.70,429.40 124.30,428.74 125.90,429.57 127.50,428.71 129.10,430.00 130.70,429.49 132.30,430.20 133.85,430.22 135.40,428.93 136.95,430.12 138.50,429.58 140.05,428.49 141.60,429.26 143.15,428.62 144.70,428.00 146.24,428.12 147.77,429.12 149.31,428.82 150.85,429.05 152.39,430.35 153.93,429.61 155.46,431.05 157.00,430.90 158.55,430.56 160.10,432.05 161.65,431.15 163.20,431.25 164.75,432.57 166.30,431.76 167.85,433.10 169.40,432.90 170.92,432.37 172.43,433.42 173.95,432.33 175.46,433.00 176.98,432.95 178.49,432.36 180.01,432.00 181.52,433.11 183.04,433.28 184.55,431.92 186.07,433.24 187.58,431.85 189.10,432.40 190.66,432.91 192.22,431.81 193.78,433.01 195.34,431.60 196.91,432.58 198.47,432.99 200.03,433.02 201.59,432.63 203.15,431.72 204.71,432.58 206.27,432.64 207.83,431.79 209.39,432.53 210.96,432.00 212.52,432.86 214.08,431.55 215.64,432.88 217.20,432.20" fill="none" stroke="#4f4f4f" stroke-width="1.7" stroke-linejoin="round" stroke-linecap="round" />
<line x1="101.60" y1="308.50" x2="101.60" y2="442.20" stroke="#333" stroke-width="1.1" stroke-dasharray="5,2.7"/>
<line x1="144.40" y1="340.50" x2="144.40" y2="436.50" stroke="#333" stroke-width="1.1" stroke-dasharray="5,2.7"/>
<line x1="144.40" y1="453.00" x2="144.40" y2="458.00" stroke="#333" stroke-width="1.1" />
<text x="6.30" y="305.00" font-size="18" text-anchor="start" font-weight="bold" fill="#000" >d</text>
<text transform="translate(30.90,302.20) scale(0.87,1)" font-size="11.3" text-anchor="start" font-weight="bold" fill="#000" >Co<tspan dy="2.49" font-size="7.91" fill="#777" font-weight="normal" stroke="none">H</tspan><tspan dy="-2.49">Cu</tspan></text>
<text transform="translate(30.90,316.70) scale(0.87,1)" font-size="11.3" text-anchor="start" font-weight="bold" fill="#000" >Cu AEY</text>
<text transform="translate(216.00,302.10) scale(0.87,1)" font-size="11.3" text-anchor="end" font-weight="bold" fill="#000" >NH<tspan dy="2.49" font-size="6.78">3</tspan><tspan dy="-2.49">+O</tspan><tspan dy="2.49" font-size="6.78">2</tspan></text>
<text transform="translate(95.70,305.20) scale(0.93,1)" font-size="9.7" text-anchor="start" font-weight="normal" fill="#222" >Cu<tspan dy="-3.69" font-size="5.82">2+</tspan></text>
<text transform="translate(138.70,333.70) scale(0.93,1)" font-size="9.7" text-anchor="start" font-weight="normal" fill="#222" >Cu<tspan dy="-3.69" font-size="5.82">+</tspan></text>
<text transform="translate(212.20,344.50) scale(0.85,1)" font-size="11.0" text-anchor="end" font-weight="bold" fill="#dfa6f2" >300 °C</text>
<text transform="translate(212.20,365.60) scale(0.85,1)" font-size="11.0" text-anchor="end" font-weight="bold" fill="#9b4fdd" >200 °C</text>
<text transform="translate(212.20,401.90) scale(0.85,1)" font-size="11.0" text-anchor="end" font-weight="bold" fill="#4a2190" >100 °C</text>
<text transform="translate(203.20,427.00) scale(0.85,1)" font-size="11.0" text-anchor="end" font-weight="bold" fill="#4f4f4f" >RT</text>
<line x1="268.55" y1="442.90" x2="268.55" y2="439.90" stroke="#000" stroke-width="0.9" />
<line x1="281.11" y1="442.90" x2="281.11" y2="441.30" stroke="#000" stroke-width="0.9" />
<line x1="293.66" y1="442.90" x2="293.66" y2="439.90" stroke="#000" stroke-width="0.9" />
<line x1="306.21" y1="442.90" x2="306.21" y2="441.30" stroke="#000" stroke-width="0.9" />
<line x1="318.77" y1="442.90" x2="318.77" y2="439.90" stroke="#000" stroke-width="0.9" />
<line x1="331.32" y1="442.90" x2="331.32" y2="441.30" stroke="#000" stroke-width="0.9" />
<line x1="343.87" y1="442.90" x2="343.87" y2="439.90" stroke="#000" stroke-width="0.9" />
<line x1="356.43" y1="442.90" x2="356.43" y2="441.30" stroke="#000" stroke-width="0.9" />
<line x1="368.98" y1="442.90" x2="368.98" y2="439.90" stroke="#000" stroke-width="0.9" />
<line x1="381.53" y1="442.90" x2="381.53" y2="441.30" stroke="#000" stroke-width="0.9" />
<line x1="394.09" y1="442.90" x2="394.09" y2="439.90" stroke="#000" stroke-width="0.9" />
<line x1="406.64" y1="442.90" x2="406.64" y2="441.30" stroke="#000" stroke-width="0.9" />
<line x1="419.19" y1="442.90" x2="419.19" y2="439.90" stroke="#000" stroke-width="0.9" />
<line x1="431.75" y1="442.90" x2="431.75" y2="441.30" stroke="#000" stroke-width="0.9" />
<rect x="256.00" y="291.60" width="188.30" height="151.30" fill="none" stroke="#000" stroke-width="1.1"/>
<text transform="translate(268.55,453.70) scale(0.91,1)" font-size="10.2" text-anchor="middle" font-weight="normal" fill="#222" >926</text>
<text transform="translate(293.66,453.70) scale(0.91,1)" font-size="10.2" text-anchor="middle" font-weight="normal" fill="#222" >928</text>
<text transform="translate(318.77,453.70) scale(0.91,1)" font-size="10.2" text-anchor="middle" font-weight="normal" fill="#222" >930</text>
<text transform="translate(343.87,453.70) scale(0.91,1)" font-size="10.2" text-anchor="middle" font-weight="normal" fill="#222" >932</text>
<text transform="translate(368.98,453.70) scale(0.91,1)" font-size="10.2" text-anchor="middle" font-weight="normal" fill="#222" >934</text>
<text transform="translate(394.09,453.70) scale(0.91,1)" font-size="10.2" text-anchor="middle" font-weight="normal" fill="#222" >936</text>
<text transform="translate(419.19,453.70) scale(0.91,1)" font-size="10.2" text-anchor="middle" font-weight="normal" fill="#222" >938</text>
<text transform="translate(444.30,453.70) scale(0.91,1)" font-size="10.2" text-anchor="middle" font-weight="normal" fill="#222" >940</text>
<text x="359.60" y="465.50" font-size="10.95" text-anchor="middle" font-weight="normal" fill="#222" >Photon Energy (eV)</text>
<text x="250.80" y="368.75" font-size="11.15" text-anchor="middle" font-weight="normal" fill="#222" transform="rotate(-90 250.80 368.75)">Intensity (arb. units)</text>
<polyline points="256.50,343.30 258.04,342.93 259.57,343.66 261.11,345.21 262.65,344.58 264.19,345.80 265.73,345.29 267.26,346.56 268.80,346.50 270.44,347.69 272.09,346.25 273.73,348.24 275.38,348.14 277.02,347.50 278.67,348.05 280.31,349.58 281.96,348.63 283.60,349.40 285.24,350.48 286.89,348.95 288.53,350.84 290.18,351.14 291.82,350.02 293.47,351.47 295.11,350.08 296.76,351.93 298.40,351.40 299.95,351.72 301.50,350.35 303.05,351.62 304.60,350.29 306.15,351.61 307.70,350.27 309.25,351.47 310.80,350.70 312.35,349.61 313.90,346.76 315.45,346.48 317.00,344.50 318.85,334.76 320.70,326.50 323.60,311.90 325.60,302.00 326.60,297.50 328.50,297.00 330.50,297.50 332.00,302.50 334.20,311.90 336.20,319.75 338.20,326.50 339.95,329.29 341.70,333.40 343.23,334.48 344.75,333.76 346.27,335.01 347.80,335.90 349.32,336.84 350.84,335.65 352.36,335.99 353.88,337.24 355.40,337.10 357.25,335.83 359.10,335.64 360.95,334.92 362.80,333.40 364.65,333.45 366.50,332.08 368.35,331.31 370.20,330.20 371.75,329.28 373.30,330.46 374.85,329.52 376.40,329.70 377.95,331.03 379.50,331.13 381.05,332.92 382.60,333.40 384.23,333.53 385.87,335.37 387.50,334.91 389.13,337.08 390.77,336.50 392.40,337.60 393.95,338.29 395.50,337.96 397.05,339.16 398.60,338.02 400.15,339.79 401.70,340.09 403.25,339.30 404.80,340.10 406.44,339.36 408.09,340.58 409.73,339.51 411.38,340.47 413.02,339.39 414.67,340.64 416.31,339.52 417.96,340.66 419.60,340.10 421.12,339.65 422.65,339.25 424.18,340.75 425.70,339.55 427.23,340.65 428.75,339.36 430.28,339.23 431.80,339.54 433.32,339.02 434.85,340.39 436.38,339.36 437.90,340.53 439.43,339.17 440.95,340.26 442.48,339.03 444.00,339.60" fill="none" stroke="#dfa6f2" stroke-width="1.55" stroke-linejoin="round" stroke-linecap="round" />
<polyline points="256.50,364.80 258.04,364.36 259.57,365.65 261.11,364.94 262.65,366.30 264.19,365.57 265.73,366.69 267.26,365.70 268.80,366.70 270.44,366.06 272.09,367.55 273.73,366.74 275.38,368.28 277.02,368.60 278.67,367.59 280.31,369.14 281.96,367.76 283.60,368.70 285.24,369.52 286.89,368.29 288.53,369.71 290.18,368.90 291.82,369.30 293.47,370.49 295.11,369.64 296.76,370.75 298.40,370.40 299.95,369.75 301.50,370.93 303.05,369.54 304.60,370.83 306.15,370.57 307.70,369.53 309.25,370.09 310.80,369.70 312.35,367.75 313.90,367.84 315.45,364.89 317.00,364.30 318.85,356.16 320.70,349.40 322.30,340.69 323.90,330.20 326.20,319.20 328.40,314.80 331.30,320.50 333.40,329.35 335.50,339.60 337.13,343.14 338.77,347.43 340.40,351.90 341.95,353.88 343.50,354.29 345.05,357.02 346.60,358.10 348.45,359.47 350.30,359.05 352.15,361.14 354.00,361.80 355.57,361.76 357.15,363.13 358.73,362.17 360.30,363.00 361.85,363.40 363.40,362.26 364.95,363.11 366.50,361.64 368.05,362.49 369.60,360.91 371.15,361.16 372.70,361.30 374.24,362.27 375.77,362.45 377.31,361.65 378.85,361.30 380.39,363.09 381.93,363.17 383.46,363.21 385.00,363.00 386.55,362.37 388.10,364.09 389.65,363.04 391.20,363.94 392.75,363.17 394.30,363.26 395.85,364.65 397.40,364.30 398.97,363.57 400.55,364.04 402.12,363.53 403.69,364.72 405.26,363.91 406.84,364.64 408.41,363.77 409.98,365.10 411.55,364.72 413.13,365.05 414.70,364.30 416.34,363.94 417.99,365.01 419.63,365.00 421.28,363.19 422.92,364.51 424.57,363.30 426.21,364.75 427.86,363.05 429.50,363.80 431.11,364.26 432.72,362.95 434.33,363.16 435.94,363.18 437.56,364.09 439.17,362.64 440.78,363.59 442.39,362.42 444.00,363.00" fill="none" stroke="#9b4fdd" stroke-width="1.7" stroke-linejoin="round" stroke-linecap="round" />
<polyline points="256.50,382.80 258.13,382.16 259.77,386.15 261.40,383.92 263.03,387.70 264.67,387.04 266.30,389.00 267.85,390.70 269.40,389.51 270.95,392.65 272.50,391.40 274.05,394.14 275.60,391.98 277.15,393.19 278.70,395.10 280.24,397.32 281.77,395.23 283.31,397.95 284.85,399.34 286.39,396.31 287.93,400.18 289.46,397.78 291.00,400.10 292.55,401.61 294.10,400.93 295.65,402.95 297.20,401.91 298.75,405.15 300.30,403.60 301.85,403.65 303.40,406.20 305.03,405.97 306.67,408.62 308.30,408.20 310.15,405.54 312.00,406.73 313.85,403.77 315.70,403.80 317.55,403.46 319.40,399.18 321.25,400.00 323.10,397.60 324.77,394.34 326.43,394.98 328.10,392.70 329.95,390.59 331.80,392.62 333.65,390.15 335.50,390.20 337.35,391.46 339.20,390.09 341.05,392.91 342.90,391.40 344.60,389.12 346.30,389.59 348.00,386.50 349.63,383.73 351.27,385.08 352.90,381.50 354.75,381.64 356.60,377.13 358.45,379.10 360.30,376.60 361.80,373.70 363.30,374.97 364.80,371.58 366.30,372.38 367.80,370.40 369.65,368.19 371.50,370.36 373.35,365.71 375.20,366.70 376.83,369.06 378.47,367.09 380.10,369.20 381.95,371.98 383.80,370.53 385.65,375.06 387.50,375.40 389.15,377.08 390.80,377.12 392.45,375.51 394.10,378.08 395.75,375.65 397.40,377.80 398.94,377.11 400.47,379.11 402.01,377.19 403.55,378.80 405.09,376.40 406.62,378.77 408.16,375.85 409.70,377.80 411.25,379.90 412.80,376.63 414.35,379.85 415.90,376.65 417.45,379.23 419.00,377.35 420.55,380.53 422.10,379.10 423.64,379.98 425.18,378.01 426.71,380.10 428.25,377.66 429.79,380.17 431.32,377.05 432.86,379.58 434.40,378.60 436.00,376.59 437.60,379.52 439.20,376.82 440.80,378.79 442.40,377.29 444.00,377.80" fill="none" stroke="#4a2190" stroke-width="1.8" stroke-linejoin="round" stroke-linecap="round" />
<polyline points="256.50,426.00 258.35,428.02 260.20,425.57 262.05,429.20 263.90,428.50 265.44,430.90 266.97,429.30 268.51,432.58 270.05,430.64 271.59,431.23 273.12,433.99 274.66,434.77 276.20,434.60 277.84,433.84 279.49,434.57 281.13,437.51 282.78,436.20 284.42,438.78 286.07,436.54 287.71,439.14 289.36,437.63 291.00,439.60 292.55,439.03 294.10,440.54 295.65,439.35 297.20,441.79 298.75,439.58 300.30,442.21 301.85,440.02 303.40,441.30 305.25,443.43 307.10,443.55 308.95,443.83 310.80,443.00 312.35,440.57 313.90,440.63 315.45,435.88 317.00,435.90 318.63,430.28 320.27,425.46 321.90,421.00 323.53,416.18 325.17,407.80 326.80,403.80 328.90,400.94 331.00,395.10 332.60,396.23 334.20,400.10 335.87,405.69 337.53,408.50 339.20,413.60 340.75,415.15 342.30,414.84 343.85,417.27 345.40,417.30 347.07,416.76 348.73,418.46 350.40,416.77 352.07,418.49 353.73,416.39 355.40,417.30 357.25,416.93 359.10,414.07 360.95,414.42 362.80,412.40 364.65,410.13 366.50,408.96 368.35,409.75 370.20,408.20 371.87,406.64 373.53,409.33 375.20,407.50 377.05,409.31 378.90,408.46 380.75,410.90 382.60,411.20 384.23,410.37 385.87,414.59 387.50,412.06 389.13,415.10 390.77,414.51 392.40,416.10 393.95,415.06 395.50,418.55 397.05,415.47 398.60,418.33 400.15,416.38 401.70,420.13 403.25,417.25 404.80,419.10 406.44,420.29 408.09,418.18 409.73,420.47 411.38,418.42 413.02,418.94 414.67,419.08 416.31,421.81 417.96,421.05 419.60,420.60 421.12,421.54 422.65,419.77 424.18,419.74 425.70,421.27 427.23,420.11 428.75,420.22 430.28,421.59 431.80,419.29 433.32,422.21 434.85,420.16 436.38,422.06 437.90,419.89 439.43,422.12 440.95,420.07 442.48,422.40 444.00,421.00" fill="none" stroke="#4f4f4f" stroke-width="1.7" stroke-linejoin="round" stroke-linecap="round" />
<line x1="328.50" y1="298.00" x2="328.50" y2="442.90" stroke="#333" stroke-width="1.1" stroke-dasharray="5,2.7"/>
<line x1="374.00" y1="330.40" x2="374.00" y2="442.90" stroke="#333" stroke-width="1.1" stroke-dasharray="5,2.7"/>
<text x="233.20" y="305.00" font-size="18" text-anchor="start" font-weight="bold" fill="#000" >e</text>
<text transform="translate(258.60,302.20) scale(0.87,1)" font-size="11.3" text-anchor="start" font-weight="bold" fill="#000" >Co<tspan dy="2.49" font-size="7.91" fill="#777" font-weight="normal" stroke="none">H</tspan><tspan dy="-2.49">Cu</tspan></text>
<text transform="translate(258.60,316.90) scale(0.87,1)" font-size="11.3" text-anchor="start" font-weight="bold" fill="#000" >Cu AEY</text>
<text transform="translate(442.00,303.90) scale(0.87,1)" font-size="11.3" text-anchor="end" font-weight="bold" fill="#000" >200 °C</text>
<text transform="translate(334.80,303.50) scale(0.93,1)" font-size="9.7" text-anchor="start" font-weight="normal" fill="#222" >Cu<tspan dy="-3.69" font-size="5.82">2+</tspan></text>
<text transform="translate(367.40,326.30) scale(0.93,1)" font-size="9.7" text-anchor="start" font-weight="normal" fill="#222" >Cu<tspan dy="-3.69" font-size="5.82">+</tspan></text>
<text transform="translate(441.20,335.40) scale(0.85,1)" font-size="11.0" text-anchor="end" font-weight="bold" fill="#dfa6f2" >NH<tspan dy="2.42" font-size="6.05">3</tspan><tspan dy="-2.42">+O</tspan><tspan dy="2.42" font-size="6.05">2</tspan></text>
<text transform="translate(442.00,361.30) scale(0.85,1)" font-size="11.0" text-anchor="end" font-weight="bold" fill="#9b4fdd" >NH<tspan dy="2.42" font-size="6.05">3</tspan><tspan dy="-2.42">+NO</tspan></text>
<text transform="translate(432.30,379.80) scale(0.85,1)" font-size="11.0" text-anchor="end" font-weight="bold" fill="#4a2190" >NH<tspan dy="2.42" font-size="6.05">3</tspan><tspan dy="-2.42"></tspan></text>
<text transform="translate(441.20,413.60) scale(0.92,1)" font-size="10.2" text-anchor="end" font-weight="normal" fill="#333" >NH<tspan dy="2.24" font-size="5.61">3</tspan><tspan dy="-2.24">+O</tspan><tspan dy="2.24" font-size="5.61">2</tspan></text>
<line x1="500.95" y1="443.20" x2="500.95" y2="440.20" stroke="#000" stroke-width="0.9" />
<line x1="513.51" y1="443.20" x2="513.51" y2="441.60" stroke="#000" stroke-width="0.9" />
<line x1="526.06" y1="443.20" x2="526.06" y2="440.20" stroke="#000" stroke-width="0.9" />
<line x1="538.61" y1="443.20" x2="538.61" y2="441.60" stroke="#000" stroke-width="0.9" />
<line x1="551.17" y1="443.20" x2="551.17" y2="440.20" stroke="#000" stroke-width="0.9" />
<line x1="563.72" y1="443.20" x2="563.72" y2="441.60" stroke="#000" stroke-width="0.9" />
<line x1="576.27" y1="443.20" x2="576.27" y2="440.20" stroke="#000" stroke-width="0.9" />
<line x1="588.83" y1="443.20" x2="588.83" y2="441.60" stroke="#000" stroke-width="0.9" />
<line x1="601.38" y1="443.20" x2="601.38" y2="440.20" stroke="#000" stroke-width="0.9" />
<line x1="613.93" y1="443.20" x2="613.93" y2="441.60" stroke="#000" stroke-width="0.9" />
<line x1="626.49" y1="443.20" x2="626.49" y2="440.20" stroke="#000" stroke-width="0.9" />
<line x1="639.04" y1="443.20" x2="639.04" y2="441.60" stroke="#000" stroke-width="0.9" />
<line x1="651.59" y1="443.20" x2="651.59" y2="440.20" stroke="#000" stroke-width="0.9" />
<line x1="664.15" y1="443.20" x2="664.15" y2="441.60" stroke="#000" stroke-width="0.9" />
<rect x="488.40" y="291.40" width="188.30" height="151.80" fill="none" stroke="#000" stroke-width="1.1"/>
<text transform="translate(500.95,454.00) scale(0.91,1)" font-size="10.2" text-anchor="middle" font-weight="normal" fill="#222" >926</text>
<text transform="translate(526.06,454.00) scale(0.91,1)" font-size="10.2" text-anchor="middle" font-weight="normal" fill="#222" >928</text>
<text transform="translate(551.17,454.00) scale(0.91,1)" font-size="10.2" text-anchor="middle" font-weight="normal" fill="#222" >930</text>
<text transform="translate(576.27,454.00) scale(0.91,1)" font-size="10.2" text-anchor="middle" font-weight="normal" fill="#222" >932</text>
<text transform="translate(601.38,454.00) scale(0.91,1)" font-size="10.2" text-anchor="middle" font-weight="normal" fill="#222" >934</text>
<text transform="translate(626.49,454.00) scale(0.91,1)" font-size="10.2" text-anchor="middle" font-weight="normal" fill="#222" >936</text>
<text transform="translate(651.59,454.00) scale(0.91,1)" font-size="10.2" text-anchor="middle" font-weight="normal" fill="#222" >938</text>
<text transform="translate(676.70,454.00) scale(0.91,1)" font-size="10.2" text-anchor="middle" font-weight="normal" fill="#222" >940</text>
<text x="592.00" y="465.80" font-size="10.95" text-anchor="middle" font-weight="normal" fill="#222" >Photon Energy (eV)</text>
<text x="482.50" y="368.80" font-size="11.15" text-anchor="middle" font-weight="normal" fill="#222" transform="rotate(-90 482.50 368.80)">Intensity (arb. units)</text>
<polyline points="488.80,341.50 490.30,341.03 491.80,342.51 493.30,341.41 494.80,341.82 496.30,343.03 497.80,342.36 499.30,343.37 500.80,343.30 502.44,343.03 504.09,343.84 505.73,344.43 507.38,344.48 509.02,343.50 510.67,344.43 512.31,344.72 513.96,343.59 515.60,344.50 517.24,345.49 518.89,344.16 520.53,345.47 522.18,344.76 523.82,344.76 525.47,345.69 527.11,346.26 528.76,344.82 530.40,345.70 532.06,346.24 533.71,344.76 535.37,344.75 537.02,344.12 538.68,345.24 540.33,344.07 541.99,343.88 543.64,344.50 545.30,344.00 547.50,339.65 549.70,337.10 551.20,331.52 552.70,324.80 555.60,312.40 558.30,305.00 560.60,303.80 562.20,307.36 563.80,312.40 565.65,320.45 567.50,327.20 569.13,331.08 570.77,336.63 572.40,340.80 573.95,340.87 575.50,343.29 577.05,343.26 578.60,344.50 580.36,344.78 582.12,343.01 583.88,343.69 585.64,343.37 587.40,342.00 589.25,340.18 591.10,339.52 592.95,338.66 594.80,338.30 596.47,338.14 598.13,337.52 599.80,336.60 601.65,336.45 603.50,338.41 605.35,338.76 607.20,339.10 608.83,339.06 610.47,340.26 612.10,339.83 613.73,339.81 615.37,341.66 617.00,341.50 618.55,340.69 620.10,342.35 621.65,341.30 623.20,340.98 624.75,341.17 626.30,342.50 627.85,342.39 629.40,342.00 631.04,341.44 632.69,341.99 634.33,340.73 635.98,342.10 637.62,340.53 639.27,341.62 640.91,340.19 642.56,340.60 644.20,340.80 645.84,340.98 647.49,339.99 649.13,341.21 650.78,339.93 652.42,340.59 654.07,339.61 655.71,340.24 657.36,339.02 659.00,339.60 660.57,339.65 662.15,338.33 663.72,339.68 665.29,338.14 666.86,339.21 668.44,337.52 670.01,338.71 671.58,337.50 673.15,338.01 674.73,337.77 676.30,337.10" fill="none" stroke="#dfa6f2" stroke-width="1.55" stroke-linejoin="round" stroke-linecap="round" />
<polyline points="488.80,363.80 490.30,364.52 491.80,362.88 493.30,364.93 494.80,363.94 496.30,364.26 497.80,364.39 499.30,366.57 500.80,365.50 502.44,364.58 504.09,366.63 505.73,367.52 507.38,366.36 509.02,366.33 510.67,366.50 512.31,367.06 513.96,369.32 515.60,368.70 517.24,367.67 518.89,370.39 520.53,370.54 522.18,368.63 523.82,370.64 525.47,369.47 527.11,371.92 528.76,370.04 530.40,371.20 531.91,372.33 533.42,372.10 534.93,370.59 536.44,372.60 537.96,370.96 539.47,372.76 540.98,370.63 542.49,372.88 544.00,372.20 545.67,368.29 547.33,366.06 549.00,364.30 550.85,357.32 552.70,349.40 554.55,343.79 556.40,337.10 559.30,330.90 560.90,333.28 562.50,337.10 564.35,345.22 566.20,351.90 567.87,355.62 569.53,361.32 571.20,364.30 572.83,365.76 574.47,368.79 576.10,370.40 577.77,368.98 579.43,369.11 581.10,369.70 583.00,367.99 584.90,368.00 586.57,366.88 588.23,364.97 589.90,361.80 591.75,359.79 593.60,360.67 595.45,357.85 597.30,358.10 599.15,360.02 601.00,358.49 602.85,360.68 604.70,360.60 606.35,360.17 608.00,362.47 609.65,361.13 611.30,363.56 612.95,363.06 614.60,364.30 616.14,363.90 617.67,365.07 619.21,364.17 620.75,365.99 622.29,366.24 623.83,364.46 625.36,364.94 626.90,365.50 628.54,366.27 630.19,364.24 631.83,366.09 633.48,364.59 635.12,365.55 636.77,364.50 638.41,363.95 640.06,365.74 641.70,364.80 643.25,364.16 644.80,364.75 646.35,363.75 647.90,365.24 649.45,364.28 651.00,362.94 652.55,364.44 654.10,363.00 655.64,363.08 657.17,361.40 658.71,363.26 660.25,362.71 661.79,360.30 663.33,361.76 664.86,360.37 666.40,360.60 668.05,359.93 669.70,362.17 671.35,361.76 673.00,360.17 674.65,362.35 676.30,361.80" fill="none" stroke="#9b4fdd" stroke-width="1.7" stroke-linejoin="round" stroke-linecap="round" />
<polyline points="488.80,377.80 490.50,379.80 492.20,376.60 493.92,378.99 495.64,377.98 497.36,382.04 499.08,380.90 500.80,384.00 502.35,386.72 503.90,385.26 505.45,388.83 507.00,386.17 508.55,390.30 510.10,388.63 511.65,393.57 513.20,392.70 514.74,394.92 516.28,392.76 517.81,397.03 519.35,394.83 520.89,398.66 522.42,395.65 523.96,399.14 525.50,398.80 527.05,398.04 528.60,398.92 530.15,401.62 531.70,400.01 533.25,404.28 534.80,401.08 536.35,404.52 537.90,403.80 539.62,402.72 541.34,406.24 543.06,403.89 544.78,405.55 546.50,407.50 548.13,406.74 549.77,398.31 551.40,397.60 553.25,394.70 555.10,386.50 556.95,381.84 558.80,380.30 560.65,385.73 562.50,386.50 564.17,387.55 565.83,391.30 567.50,397.60 569.13,403.14 570.77,401.91 572.40,406.20 574.07,403.91 575.73,405.50 577.40,403.80 580.00,401.30 581.63,397.70 583.27,393.76 584.90,393.90 586.57,392.79 588.23,388.69 589.90,387.70 591.75,389.74 593.60,385.53 595.45,385.18 597.30,386.50 599.15,388.07 601.00,387.15 602.85,382.17 604.70,382.80 606.35,385.98 608.00,383.22 609.65,386.80 611.30,384.23 612.95,389.25 614.60,387.70 616.14,385.72 617.67,389.54 619.21,388.93 620.75,388.60 622.29,385.89 623.83,389.54 625.36,386.07 626.90,387.70 628.55,387.84 630.20,384.18 631.85,388.29 633.50,383.16 635.15,386.24 636.80,384.00 638.34,383.09 639.88,385.69 641.41,382.20 642.95,385.78 644.49,381.50 646.02,386.46 647.56,385.72 649.10,384.00 650.65,381.94 652.20,385.32 653.75,382.57 655.30,386.62 656.85,382.49 658.40,386.34 659.95,382.17 661.50,384.00 663.14,384.88 664.79,382.00 666.43,385.18 668.08,381.39 669.72,382.93 671.37,379.92 673.01,379.87 674.66,379.48 676.30,380.30" fill="none" stroke="#4a2190" stroke-width="1.8" stroke-linejoin="round" stroke-linecap="round" />
<polyline points="488.80,430.90 490.30,430.10 491.80,432.78 493.30,430.88 494.80,433.19 496.30,431.47 497.80,433.82 499.30,431.95 500.80,433.40 502.44,433.36 504.09,435.44 505.73,433.88 507.38,436.26 509.02,434.41 510.67,435.37 512.31,436.91 513.96,436.00 515.60,437.10 517.24,436.26 518.89,438.98 520.53,437.73 522.18,439.60 523.82,440.13 525.47,439.83 527.11,438.40 528.76,440.74 530.40,440.30 531.95,439.73 533.50,441.09 535.05,440.51 536.60,438.69 538.15,440.70 539.70,438.85 541.25,440.62 542.80,439.60 544.35,437.34 545.90,437.22 547.45,433.84 549.00,433.40 550.85,427.72 552.70,421.00 554.55,413.50 556.40,407.50 558.00,403.22 559.60,400.10 561.30,402.35 563.00,403.80 564.50,408.10 566.00,414.71 567.50,418.60 569.13,420.65 570.77,426.29 572.40,428.50 573.95,428.55 575.50,431.06 577.05,430.65 578.60,432.20 580.21,433.03 581.83,433.62 583.44,432.35 585.06,433.73 586.67,432.33 588.29,434.40 589.90,433.40 591.55,432.29 593.20,433.21 594.85,431.44 596.50,432.50 598.15,430.25 599.80,430.90 601.65,430.39 603.50,431.01 605.35,432.38 607.20,432.20 608.74,431.50 610.28,434.20 611.81,432.41 613.35,434.98 614.89,433.76 616.42,435.08 617.96,434.58 619.50,435.40 621.07,436.29 622.65,435.00 624.22,436.44 625.79,435.04 627.36,434.73 628.94,435.28 630.51,436.53 632.08,434.90 633.65,437.36 635.23,435.40 636.80,436.40 638.37,436.94 639.95,435.31 641.52,435.56 643.09,436.44 644.66,434.70 646.24,436.64 647.81,434.72 649.38,436.16 650.95,435.07 652.53,434.47 654.10,435.40 655.69,435.91 657.27,434.32 658.86,435.80 660.44,434.61 662.03,434.26 663.61,434.49 665.20,435.87 666.79,435.62 668.37,433.79 669.96,434.02 671.54,435.20 673.13,433.52 674.71,435.42 676.30,434.60" fill="none" stroke="#4f4f4f" stroke-width="1.7" stroke-linejoin="round" stroke-linecap="round" />
<line x1="559.80" y1="306.90" x2="559.80" y2="443.20" stroke="#333" stroke-width="1.1" stroke-dasharray="5,2.7"/>
<line x1="601.40" y1="332.40" x2="601.40" y2="443.20" stroke="#333" stroke-width="1.1" stroke-dasharray="5,2.7"/>
<text x="470.50" y="305.00" font-size="18" text-anchor="start" font-weight="bold" fill="#000" >f</text>
<text transform="translate(491.80,302.20) scale(0.87,1)" font-size="11.3" text-anchor="start" font-weight="normal" fill="#000" stroke="#000" stroke-width="0.35">Co<tspan dy="2.49" font-size="7.91" fill="#777" font-weight="normal" stroke="none">H</tspan><tspan dy="-2.49">Cu</tspan></text>
<text transform="translate(491.80,316.90) scale(0.87,1)" font-size="11.3" text-anchor="start" font-weight="bold" fill="#000" >Cu AEY</text>
<text transform="translate(674.40,303.90) scale(0.87,1)" font-size="11.3" text-anchor="end" font-weight="bold" fill="#000" >300 °C</text>
<text transform="translate(559.80,302.80) scale(0.93,1)" font-size="9.7" text-anchor="start" font-weight="normal" fill="#222" >Cu<tspan dy="-3.69" font-size="5.82">2+</tspan></text>
<text transform="translate(595.40,327.70) scale(0.93,1)" font-size="9.7" text-anchor="start" font-weight="normal" fill="#222" >Cu<tspan dy="-3.69" font-size="5.82">+</tspan></text>
<text transform="translate(674.00,333.70) scale(0.85,1)" font-size="11.0" text-anchor="end" font-weight="bold" fill="#dfa6f2" >NH<tspan dy="2.42" font-size="6.05">3</tspan><tspan dy="-2.42">+O</tspan><tspan dy="2.42" font-size="6.05">2</tspan></text>
<text transform="translate(674.00,356.60) scale(0.85,1)" font-size="11.0" text-anchor="end" font-weight="bold" fill="#9b4fdd" >NH<tspan dy="2.42" font-size="6.05">3</tspan><tspan dy="-2.42">+NO</tspan></text>
<text transform="translate(664.90,380.70) scale(0.85,1)" font-size="11.0" text-anchor="end" font-weight="bold" fill="#4a2190" >NH<tspan dy="2.42" font-size="6.05">3</tspan><tspan dy="-2.42"></tspan></text>
<text transform="translate(674.00,429.40) scale(0.92,1)" font-size="10.2" text-anchor="end" font-weight="normal" fill="#333" >NH<tspan dy="2.24" font-size="5.61">3</tspan><tspan dy="-2.24">+O</tspan><tspan dy="2.24" font-size="5.61">2</tspan></text>
<line x1="28.50" y1="254.30" x2="31.50" y2="254.30" stroke="#000" stroke-width="0.9" />
<line x1="28.50" y1="247.56" x2="30.10" y2="247.56" stroke="#000" stroke-width="0.9" />
<line x1="28.50" y1="240.82" x2="31.50" y2="240.82" stroke="#000" stroke-width="0.9" />
<line x1="28.50" y1="234.08" x2="30.10" y2="234.08" stroke="#000" stroke-width="0.9" />
<line x1="28.50" y1="227.34" x2="31.50" y2="227.34" stroke="#000" stroke-width="0.9" />
<line x1="28.50" y1="220.60" x2="30.10" y2="220.60" stroke="#000" stroke-width="0.9" />
<line x1="28.50" y1="213.86" x2="31.50" y2="213.86" stroke="#000" stroke-width="0.9" />
<line x1="28.50" y1="207.12" x2="30.10" y2="207.12" stroke="#000" stroke-width="0.9" />
<line x1="28.50" y1="200.38" x2="31.50" y2="200.38" stroke="#000" stroke-width="0.9" />
<line x1="28.50" y1="193.64" x2="30.10" y2="193.64" stroke="#000" stroke-width="0.9" />
<line x1="28.50" y1="186.90" x2="31.50" y2="186.90" stroke="#000" stroke-width="0.9" />
<rect x="28.50" y="186.90" width="190.30" height="67.40" fill="none" stroke="#000" stroke-width="1.1"/>
<text transform="translate(26.10,256.50) scale(0.91,1)" font-size="10.2" text-anchor="end" font-weight="normal" fill="#222" >0</text>
<text transform="translate(26.10,243.02) scale(0.91,1)" font-size="10.2" text-anchor="end" font-weight="normal" fill="#222" >20</text>
<text transform="translate(26.10,229.54) scale(0.91,1)" font-size="10.2" text-anchor="end" font-weight="normal" fill="#222" >40</text>
<text transform="translate(26.10,216.06) scale(0.91,1)" font-size="10.2" text-anchor="end" font-weight="normal" fill="#222" >60</text>
<text transform="translate(26.10,202.58) scale(0.91,1)" font-size="10.2" text-anchor="end" font-weight="normal" fill="#222" >80</text>
<text transform="translate(26.10,189.10) scale(0.91,1)" font-size="10.2" text-anchor="end" font-weight="normal" fill="#222" >100</text>
<text x="9.60" y="217.90" font-size="10.8" text-anchor="middle" font-weight="normal" fill="#222" transform="rotate(-90 9.60 217.90)">Content / %</text>
<line x1="40.60" y1="254.30" x2="40.60" y2="251.30" stroke="#000" stroke-width="0.9" />
<text transform="translate(40.60,266.20) scale(0.91,1)" font-size="10.2" text-anchor="middle" font-weight="normal" fill="#222" >0</text>
<line x1="67.90" y1="254.30" x2="67.90" y2="251.30" stroke="#000" stroke-width="0.9" />
<text transform="translate(67.90,266.20) scale(0.91,1)" font-size="10.2" text-anchor="middle" font-weight="normal" fill="#222" >50</text>
<line x1="95.20" y1="254.30" x2="95.20" y2="251.30" stroke="#000" stroke-width="0.9" />
<text transform="translate(95.20,266.20) scale(0.91,1)" font-size="10.2" text-anchor="middle" font-weight="normal" fill="#222" >100</text>
<line x1="122.50" y1="254.30" x2="122.50" y2="251.30" stroke="#000" stroke-width="0.9" />
<text transform="translate(122.50,266.20) scale(0.91,1)" font-size="10.2" text-anchor="middle" font-weight="normal" fill="#222" >150</text>
<line x1="149.80" y1="254.30" x2="149.80" y2="251.30" stroke="#000" stroke-width="0.9" />
<text transform="translate(149.80,266.20) scale(0.91,1)" font-size="10.2" text-anchor="middle" font-weight="normal" fill="#222" >200</text>
<line x1="177.10" y1="254.30" x2="177.10" y2="251.30" stroke="#000" stroke-width="0.9" />
<text transform="translate(177.10,266.20) scale(0.91,1)" font-size="10.2" text-anchor="middle" font-weight="normal" fill="#222" >250</text>
<line x1="204.40" y1="254.30" x2="204.40" y2="251.30" stroke="#000" stroke-width="0.9" />
<text transform="translate(204.40,266.20) scale(0.91,1)" font-size="10.2" text-anchor="middle" font-weight="normal" fill="#222" >300</text>
<line x1="54.25" y1="254.30" x2="54.25" y2="252.70" stroke="#000" stroke-width="0.9" />
<line x1="81.55" y1="254.30" x2="81.55" y2="252.70" stroke="#000" stroke-width="0.9" />
<line x1="108.85" y1="254.30" x2="108.85" y2="252.70" stroke="#000" stroke-width="0.9" />
<line x1="136.15" y1="254.30" x2="136.15" y2="252.70" stroke="#000" stroke-width="0.9" />
<line x1="163.45" y1="254.30" x2="163.45" y2="252.70" stroke="#000" stroke-width="0.9" />
<line x1="190.75" y1="254.30" x2="190.75" y2="252.70" stroke="#000" stroke-width="0.9" />
<text x="127.80" y="277.60" font-size="10.8" text-anchor="middle" font-weight="normal" fill="#222" >T / <tspan dy="-2.8" font-size="7">o</tspan><tspan dy="2.8">C</tspan></text>
<polyline points="52.61,194.99 95.20,203.75 149.80,223.30 204.40,246.21" fill="none" stroke="#4b2a91" stroke-width="1.6" stroke-linejoin="round" stroke-linecap="round" />
<rect x="50.61" y="192.99" width="4.0" height="4.0" fill="#4b2a91"/>
<rect x="93.20" y="201.75" width="4.0" height="4.0" fill="#4b2a91"/>
<rect x="147.80" y="221.30" width="4.0" height="4.0" fill="#4b2a91"/>
<rect x="202.40" y="244.21" width="4.0" height="4.0" fill="#4b2a91"/>
<polyline points="52.61,246.89 95.20,238.12 149.80,234.08 204.40,242.17" fill="none" stroke="#3ccfcf" stroke-width="1.6" stroke-linejoin="round" stroke-linecap="round" />
<circle cx="52.61" cy="246.89" r="2.1" fill="#3ccfcf"/>
<circle cx="95.20" cy="238.12" r="2.1" fill="#3ccfcf"/>
<circle cx="149.80" cy="234.08" r="2.1" fill="#3ccfcf"/>
<circle cx="204.40" cy="242.17" r="2.1" fill="#3ccfcf"/>
<polyline points="52.61,254.30 95.20,254.30 149.80,238.12 204.40,207.12" fill="none" stroke="#b93189" stroke-width="1.6" stroke-linejoin="round" stroke-linecap="round" />
<path d="M50.21,256.10 L55.01,256.10 L52.61,251.90 Z" fill="#b93189"/>
<path d="M92.80,256.10 L97.60,256.10 L95.20,251.90 Z" fill="#b93189"/>
<path d="M147.40,239.92 L152.20,239.92 L149.80,235.72 Z" fill="#b93189"/>
<path d="M202.00,208.92 L206.80,208.92 L204.40,204.72 Z" fill="#b93189"/>
<line x1="117.20" y1="194.20" x2="130.10" y2="194.20" stroke="#4b2a91" stroke-width="0.9" />
<rect x="122.35" y="192.90" width="2.6" height="2.6" fill="#4b2a91"/>
<text transform="translate(130.90,198.00) scale(0.88,1)" font-size="10.3" text-anchor="start" font-weight="normal" fill="#222" >Cu<tspan dy="-3.91" font-size="6.39">2+</tspan></text>
<line x1="153.40" y1="194.20" x2="166.30" y2="194.20" stroke="#3ccfcf" stroke-width="0.9" />
<circle cx="159.85" cy="194.20" r="1.4" fill="#3ccfcf"/>
<text transform="translate(167.10,198.00) scale(0.88,1)" font-size="10.3" text-anchor="start" font-weight="normal" fill="#222" >Cu<tspan dy="-3.91" font-size="6.39">+</tspan></text>
<line x1="186.30" y1="194.20" x2="199.20" y2="194.20" stroke="#b93189" stroke-width="0.9" />
<path d="M191.15,195.40 L194.35,195.40 L192.75,192.60 Z" fill="#b93189"/>
<text transform="translate(200.00,198.00) scale(0.88,1)" font-size="10.3" text-anchor="start" font-weight="normal" fill="#222" >Cu<tspan dy="-3.91" font-size="6.39">0</tspan></text>
<line x1="254.25" y1="254.60" x2="257.25" y2="254.60" stroke="#000" stroke-width="0.9" />
<line x1="254.25" y1="247.83" x2="255.85" y2="247.83" stroke="#000" stroke-width="0.9" />
<line x1="254.25" y1="241.06" x2="257.25" y2="241.06" stroke="#000" stroke-width="0.9" />
<line x1="254.25" y1="234.29" x2="255.85" y2="234.29" stroke="#000" stroke-width="0.9" />
<line x1="254.25" y1="227.52" x2="257.25" y2="227.52" stroke="#000" stroke-width="0.9" />
<line x1="254.25" y1="220.75" x2="255.85" y2="220.75" stroke="#000" stroke-width="0.9" />
<line x1="254.25" y1="213.98" x2="257.25" y2="213.98" stroke="#000" stroke-width="0.9" />
<line x1="254.25" y1="207.21" x2="255.85" y2="207.21" stroke="#000" stroke-width="0.9" />
<line x1="254.25" y1="200.44" x2="257.25" y2="200.44" stroke="#000" stroke-width="0.9" />
<line x1="254.25" y1="193.67" x2="255.85" y2="193.67" stroke="#000" stroke-width="0.9" />
<line x1="254.25" y1="186.90" x2="257.25" y2="186.90" stroke="#000" stroke-width="0.9" />
<rect x="254.25" y="186.90" width="189.35" height="67.70" fill="none" stroke="#000" stroke-width="1.1"/>
<text transform="translate(251.85,256.80) scale(0.91,1)" font-size="10.2" text-anchor="end" font-weight="normal" fill="#222" >0</text>
<text transform="translate(251.85,243.26) scale(0.91,1)" font-size="10.2" text-anchor="end" font-weight="normal" fill="#222" >20</text>
<text transform="translate(251.85,229.72) scale(0.91,1)" font-size="10.2" text-anchor="end" font-weight="normal" fill="#222" >40</text>
<text transform="translate(251.85,216.18) scale(0.91,1)" font-size="10.2" text-anchor="end" font-weight="normal" fill="#222" >60</text>
<text transform="translate(251.85,202.64) scale(0.91,1)" font-size="10.2" text-anchor="end" font-weight="normal" fill="#222" >80</text>
<text transform="translate(251.85,189.10) scale(0.91,1)" font-size="10.2" text-anchor="end" font-weight="normal" fill="#222" >100</text>
<text x="234.20" y="218.05" font-size="10.8" text-anchor="middle" font-weight="normal" fill="#222" transform="rotate(-90 234.20 218.05)">Content / %</text>
<line x1="267.70" y1="254.60" x2="267.70" y2="251.60" stroke="#000" stroke-width="0.9" />
<line x1="322.00" y1="254.60" x2="322.00" y2="251.60" stroke="#000" stroke-width="0.9" />
<line x1="375.70" y1="254.60" x2="375.70" y2="251.60" stroke="#000" stroke-width="0.9" />
<line x1="430.50" y1="254.60" x2="430.50" y2="251.60" stroke="#000" stroke-width="0.9" />
<text transform="translate(274.90,267.50) scale(0.85,1)" font-size="10.8" text-anchor="middle" font-weight="normal" fill="#222" >NH<tspan dy="2.70" font-size="5.40">3</tspan><tspan dy="-2.70">+O</tspan><tspan dy="2.70" font-size="5.40">2</tspan></text>
<text transform="translate(326.20,267.50) scale(0.85,1)" font-size="10.8" text-anchor="middle" font-weight="normal" fill="#222" >NH<tspan dy="2.70" font-size="5.40">3</tspan><tspan dy="-2.70"></tspan></text>
<text transform="translate(374.80,267.50) scale(0.85,1)" font-size="10.8" text-anchor="middle" font-weight="normal" fill="#222" >NH<tspan dy="2.70" font-size="5.40">3</tspan><tspan dy="-2.70">+NO</tspan></text>
<text transform="translate(427.30,267.50) scale(0.85,1)" font-size="10.8" text-anchor="middle" font-weight="normal" fill="#222" >NH<tspan dy="2.70" font-size="5.40">3</tspan><tspan dy="-2.70">+O</tspan><tspan dy="2.70" font-size="5.40">2</tspan></text>
<polyline points="267.70,224.13 322.00,241.06 375.70,198.41 430.50,240.38" fill="none" stroke="#4b2a91" stroke-width="1.6" stroke-linejoin="round" stroke-linecap="round" />
<rect x="265.70" y="222.13" width="4.0" height="4.0" fill="#4b2a91"/>
<rect x="320.00" y="239.06" width="4.0" height="4.0" fill="#4b2a91"/>
<rect x="373.70" y="196.41" width="4.0" height="4.0" fill="#4b2a91"/>
<rect x="428.50" y="238.38" width="4.0" height="4.0" fill="#4b2a91"/>
<polyline points="267.70,234.29 322.00,242.41 375.70,243.09 430.50,241.06" fill="none" stroke="#3ccfcf" stroke-width="1.6" stroke-linejoin="round" stroke-linecap="round" />
<circle cx="267.70" cy="234.29" r="2.1" fill="#3ccfcf"/>
<circle cx="322.00" cy="242.41" r="2.1" fill="#3ccfcf"/>
<circle cx="375.70" cy="243.09" r="2.1" fill="#3ccfcf"/>
<circle cx="430.50" cy="241.06" r="2.1" fill="#3ccfcf"/>
<polyline points="267.70,238.35 322.00,212.63 375.70,254.60 430.50,216.01" fill="none" stroke="#b93189" stroke-width="1.6" stroke-linejoin="round" stroke-linecap="round" />
<path d="M265.30,240.15 L270.10,240.15 L267.70,235.95 Z" fill="#b93189"/>
<path d="M319.60,214.43 L324.40,214.43 L322.00,210.23 Z" fill="#b93189"/>
<path d="M373.30,256.40 L378.10,256.40 L375.70,252.20 Z" fill="#b93189"/>
<path d="M428.10,217.81 L432.90,217.81 L430.50,213.61 Z" fill="#b93189"/>
<line x1="342.30" y1="194.20" x2="355.20" y2="194.20" stroke="#4b2a91" stroke-width="0.9" />
<rect x="347.45" y="192.90" width="2.6" height="2.6" fill="#4b2a91"/>
<text transform="translate(356.00,198.00) scale(0.88,1)" font-size="10.3" text-anchor="start" font-weight="normal" fill="#222" >Cu<tspan dy="-3.91" font-size="6.39">2+</tspan></text>
<line x1="378.50" y1="194.20" x2="391.40" y2="194.20" stroke="#3ccfcf" stroke-width="0.9" />
<circle cx="384.95" cy="194.20" r="1.4" fill="#3ccfcf"/>
<text transform="translate(392.20,198.00) scale(0.88,1)" font-size="10.3" text-anchor="start" font-weight="normal" fill="#222" >Cu<tspan dy="-3.91" font-size="6.39">+</tspan></text>
<line x1="411.40" y1="194.20" x2="424.30" y2="194.20" stroke="#b93189" stroke-width="0.9" />
<path d="M416.25,195.40 L419.45,195.40 L417.85,192.60 Z" fill="#b93189"/>
<text transform="translate(425.10,198.00) scale(0.88,1)" font-size="10.3" text-anchor="start" font-weight="normal" fill="#222" >Cu<tspan dy="-3.91" font-size="6.39">0</tspan></text>
<line x1="487.60" y1="254.90" x2="490.60" y2="254.90" stroke="#000" stroke-width="0.9" />
<line x1="487.60" y1="248.10" x2="489.20" y2="248.10" stroke="#000" stroke-width="0.9" />
<line x1="487.60" y1="241.30" x2="490.60" y2="241.30" stroke="#000" stroke-width="0.9" />
<line x1="487.60" y1="234.50" x2="489.20" y2="234.50" stroke="#000" stroke-width="0.9" />
<line x1="487.60" y1="227.70" x2="490.60" y2="227.70" stroke="#000" stroke-width="0.9" />
<line x1="487.60" y1="220.90" x2="489.20" y2="220.90" stroke="#000" stroke-width="0.9" />
<line x1="487.60" y1="214.10" x2="490.60" y2="214.10" stroke="#000" stroke-width="0.9" />
<line x1="487.60" y1="207.30" x2="489.20" y2="207.30" stroke="#000" stroke-width="0.9" />
<line x1="487.60" y1="200.50" x2="490.60" y2="200.50" stroke="#000" stroke-width="0.9" />
<line x1="487.60" y1="193.70" x2="489.20" y2="193.70" stroke="#000" stroke-width="0.9" />
<line x1="487.60" y1="186.90" x2="490.60" y2="186.90" stroke="#000" stroke-width="0.9" />
<rect x="487.60" y="186.90" width="189.00" height="68.00" fill="none" stroke="#000" stroke-width="1.1"/>
<text transform="translate(485.20,257.10) scale(0.91,1)" font-size="10.2" text-anchor="end" font-weight="normal" fill="#222" >0</text>
<text transform="translate(485.20,243.50) scale(0.91,1)" font-size="10.2" text-anchor="end" font-weight="normal" fill="#222" >20</text>
<text transform="translate(485.20,229.90) scale(0.91,1)" font-size="10.2" text-anchor="end" font-weight="normal" fill="#222" >40</text>
<text transform="translate(485.20,216.30) scale(0.91,1)" font-size="10.2" text-anchor="end" font-weight="normal" fill="#222" >60</text>
<text transform="translate(485.20,202.70) scale(0.91,1)" font-size="10.2" text-anchor="end" font-weight="normal" fill="#222" >80</text>
<text transform="translate(485.20,189.10) scale(0.91,1)" font-size="10.2" text-anchor="end" font-weight="normal" fill="#222" >100</text>
<text x="467.60" y="218.20" font-size="10.8" text-anchor="middle" font-weight="normal" fill="#222" transform="rotate(-90 467.60 218.20)">Content / %</text>
<line x1="501.00" y1="254.90" x2="501.00" y2="251.90" stroke="#000" stroke-width="0.9" />
<line x1="554.70" y1="254.90" x2="554.70" y2="251.90" stroke="#000" stroke-width="0.9" />
<line x1="609.10" y1="254.90" x2="609.10" y2="251.90" stroke="#000" stroke-width="0.9" />
<line x1="663.20" y1="254.90" x2="663.20" y2="251.90" stroke="#000" stroke-width="0.9" />
<text transform="translate(507.50,267.80) scale(0.85,1)" font-size="10.8" text-anchor="middle" font-weight="normal" fill="#222" >NH<tspan dy="2.70" font-size="5.40">3</tspan><tspan dy="-2.70">+O</tspan><tspan dy="2.70" font-size="5.40">2</tspan></text>
<text transform="translate(558.30,267.80) scale(0.85,1)" font-size="10.8" text-anchor="middle" font-weight="normal" fill="#222" >NH<tspan dy="2.70" font-size="5.40">3</tspan><tspan dy="-2.70"></tspan></text>
<text transform="translate(607.30,267.80) scale(0.85,1)" font-size="10.8" text-anchor="middle" font-weight="normal" fill="#222" >NH<tspan dy="2.70" font-size="5.40">3</tspan><tspan dy="-2.70">+NO</tspan></text>
<text transform="translate(659.90,267.80) scale(0.85,1)" font-size="10.8" text-anchor="middle" font-weight="normal" fill="#222" >NH<tspan dy="2.70" font-size="5.40">3</tspan><tspan dy="-2.70">+O</tspan><tspan dy="2.70" font-size="5.40">2</tspan></text>
<polyline points="501.00,246.74 554.70,253.54 609.10,248.78 663.20,229.74" fill="none" stroke="#4b2a91" stroke-width="1.6" stroke-linejoin="round" stroke-linecap="round" />
<rect x="499.00" y="244.74" width="4.0" height="4.0" fill="#4b2a91"/>
<rect x="552.70" y="251.54" width="4.0" height="4.0" fill="#4b2a91"/>
<rect x="607.10" y="246.78" width="4.0" height="4.0" fill="#4b2a91"/>
<rect x="661.20" y="227.74" width="4.0" height="4.0" fill="#4b2a91"/>
<polyline points="501.00,242.66 554.70,237.22 609.10,242.66 663.20,232.46" fill="none" stroke="#3ccfcf" stroke-width="1.6" stroke-linejoin="round" stroke-linecap="round" />
<circle cx="501.00" cy="242.66" r="2.1" fill="#3ccfcf"/>
<circle cx="554.70" cy="237.22" r="2.1" fill="#3ccfcf"/>
<circle cx="609.10" cy="242.66" r="2.1" fill="#3ccfcf"/>
<circle cx="663.20" cy="232.46" r="2.1" fill="#3ccfcf"/>
<polyline points="501.00,207.30 554.70,205.94 609.10,205.26 663.20,234.50" fill="none" stroke="#b93189" stroke-width="1.6" stroke-linejoin="round" stroke-linecap="round" />
<path d="M498.60,209.10 L503.40,209.10 L501.00,204.90 Z" fill="#b93189"/>
<path d="M552.30,207.74 L557.10,207.74 L554.70,203.54 Z" fill="#b93189"/>
<path d="M606.70,207.06 L611.50,207.06 L609.10,202.86 Z" fill="#b93189"/>
<path d="M660.80,236.30 L665.60,236.30 L663.20,232.10 Z" fill="#b93189"/>
<line x1="574.20" y1="194.20" x2="587.10" y2="194.20" stroke="#4b2a91" stroke-width="0.9" />
<rect x="579.35" y="192.90" width="2.6" height="2.6" fill="#4b2a91"/>
<text transform="translate(587.90,198.00) scale(0.88,1)" font-size="10.3" text-anchor="start" font-weight="normal" fill="#222" >Cu<tspan dy="-3.91" font-size="6.39">2+</tspan></text>
<line x1="610.40" y1="194.20" x2="623.30" y2="194.20" stroke="#3ccfcf" stroke-width="0.9" />
<circle cx="616.85" cy="194.20" r="1.4" fill="#3ccfcf"/>
<text transform="translate(624.10,198.00) scale(0.88,1)" font-size="10.3" text-anchor="start" font-weight="normal" fill="#222" >Cu<tspan dy="-3.91" font-size="6.39">+</tspan></text>
<line x1="643.30" y1="194.20" x2="656.20" y2="194.20" stroke="#b93189" stroke-width="0.9" />
<path d="M648.15,195.40 L651.35,195.40 L649.75,192.60 Z" fill="#b93189"/>
<text transform="translate(657.00,198.00) scale(0.88,1)" font-size="10.3" text-anchor="start" font-weight="normal" fill="#222" >Cu<tspan dy="-3.91" font-size="6.39">0</tspan></text>
<line x1="27.90" y1="543.60" x2="30.90" y2="543.60" stroke="#000" stroke-width="0.9" />
<line x1="27.90" y1="536.82" x2="29.50" y2="536.82" stroke="#000" stroke-width="0.9" />
<line x1="27.90" y1="530.04" x2="30.90" y2="530.04" stroke="#000" stroke-width="0.9" />
<line x1="27.90" y1="523.26" x2="29.50" y2="523.26" stroke="#000" stroke-width="0.9" />
<line x1="27.90" y1="516.48" x2="30.90" y2="516.48" stroke="#000" stroke-width="0.9" />
<line x1="27.90" y1="509.70" x2="29.50" y2="509.70" stroke="#000" stroke-width="0.9" />
<line x1="27.90" y1="502.92" x2="30.90" y2="502.92" stroke="#000" stroke-width="0.9" />
<line x1="27.90" y1="496.14" x2="29.50" y2="496.14" stroke="#000" stroke-width="0.9" />
<line x1="27.90" y1="489.36" x2="30.90" y2="489.36" stroke="#000" stroke-width="0.9" />
<line x1="27.90" y1="482.58" x2="29.50" y2="482.58" stroke="#000" stroke-width="0.9" />
<line x1="27.90" y1="475.80" x2="30.90" y2="475.80" stroke="#000" stroke-width="0.9" />
<rect x="27.90" y="475.80" width="189.70" height="67.80" fill="none" stroke="#000" stroke-width="1.1"/>
<text transform="translate(25.50,545.80) scale(0.91,1)" font-size="10.2" text-anchor="end" font-weight="normal" fill="#222" >0</text>
<text transform="translate(25.50,532.24) scale(0.91,1)" font-size="10.2" text-anchor="end" font-weight="normal" fill="#222" >20</text>
<text transform="translate(25.50,518.68) scale(0.91,1)" font-size="10.2" text-anchor="end" font-weight="normal" fill="#222" >40</text>
<text transform="translate(25.50,505.12) scale(0.91,1)" font-size="10.2" text-anchor="end" font-weight="normal" fill="#222" >60</text>
<text transform="translate(25.50,491.56) scale(0.91,1)" font-size="10.2" text-anchor="end" font-weight="normal" fill="#222" >80</text>
<text transform="translate(25.50,478.00) scale(0.91,1)" font-size="10.2" text-anchor="end" font-weight="normal" fill="#222" >100</text>
<text x="9.60" y="507.00" font-size="10.8" text-anchor="middle" font-weight="normal" fill="#222" transform="rotate(-90 9.60 507.00)">Content / %</text>
<line x1="40.30" y1="543.60" x2="40.30" y2="540.60" stroke="#000" stroke-width="0.9" />
<text transform="translate(40.30,555.50) scale(0.91,1)" font-size="10.2" text-anchor="middle" font-weight="normal" fill="#222" >0</text>
<line x1="67.50" y1="543.60" x2="67.50" y2="540.60" stroke="#000" stroke-width="0.9" />
<text transform="translate(67.50,555.50) scale(0.91,1)" font-size="10.2" text-anchor="middle" font-weight="normal" fill="#222" >50</text>
<line x1="94.70" y1="543.60" x2="94.70" y2="540.60" stroke="#000" stroke-width="0.9" />
<text transform="translate(94.70,555.50) scale(0.91,1)" font-size="10.2" text-anchor="middle" font-weight="normal" fill="#222" >100</text>
<line x1="121.90" y1="543.60" x2="121.90" y2="540.60" stroke="#000" stroke-width="0.9" />
<text transform="translate(121.90,555.50) scale(0.91,1)" font-size="10.2" text-anchor="middle" font-weight="normal" fill="#222" >150</text>
<line x1="149.10" y1="543.60" x2="149.10" y2="540.60" stroke="#000" stroke-width="0.9" />
<text transform="translate(149.10,555.50) scale(0.91,1)" font-size="10.2" text-anchor="middle" font-weight="normal" fill="#222" >200</text>
<line x1="176.30" y1="543.60" x2="176.30" y2="540.60" stroke="#000" stroke-width="0.9" />
<text transform="translate(176.30,555.50) scale(0.91,1)" font-size="10.2" text-anchor="middle" font-weight="normal" fill="#222" >250</text>
<line x1="203.50" y1="543.60" x2="203.50" y2="540.60" stroke="#000" stroke-width="0.9" />
<text transform="translate(203.50,555.50) scale(0.91,1)" font-size="10.2" text-anchor="middle" font-weight="normal" fill="#222" >300</text>
<line x1="53.90" y1="543.60" x2="53.90" y2="542.00" stroke="#000" stroke-width="0.9" />
<line x1="81.10" y1="543.60" x2="81.10" y2="542.00" stroke="#000" stroke-width="0.9" />
<line x1="108.30" y1="543.60" x2="108.30" y2="542.00" stroke="#000" stroke-width="0.9" />
<line x1="135.50" y1="543.60" x2="135.50" y2="542.00" stroke="#000" stroke-width="0.9" />
<line x1="162.70" y1="543.60" x2="162.70" y2="542.00" stroke="#000" stroke-width="0.9" />
<line x1="189.90" y1="543.60" x2="189.90" y2="542.00" stroke="#000" stroke-width="0.9" />
<text x="127.50" y="566.90" font-size="10.8" text-anchor="middle" font-weight="normal" fill="#222" >T / <tspan dy="-2.8" font-size="7">o</tspan><tspan dy="2.8">C</tspan></text>
<polyline points="52.27,478.51 94.70,481.22 149.10,493.43 203.50,488.00" fill="none" stroke="#4b2a91" stroke-width="1.6" stroke-linejoin="round" stroke-linecap="round" />
<rect x="50.27" y="476.51" width="4.0" height="4.0" fill="#4b2a91"/>
<rect x="92.70" y="479.22" width="4.0" height="4.0" fill="#4b2a91"/>
<rect x="147.10" y="491.43" width="4.0" height="4.0" fill="#4b2a91"/>
<rect x="201.50" y="486.00" width="4.0" height="4.0" fill="#4b2a91"/>
<polyline points="52.27,540.89 94.70,538.18 149.10,525.97 203.50,531.40" fill="none" stroke="#3ccfcf" stroke-width="1.6" stroke-linejoin="round" stroke-linecap="round" />
<circle cx="52.27" cy="540.89" r="2.1" fill="#3ccfcf"/>
<circle cx="94.70" cy="538.18" r="2.1" fill="#3ccfcf"/>
<circle cx="149.10" cy="525.97" r="2.1" fill="#3ccfcf"/>
<circle cx="203.50" cy="531.40" r="2.1" fill="#3ccfcf"/>
<polyline points="52.27,543.60 94.70,543.60 149.10,543.60 203.50,543.60" fill="none" stroke="#b93189" stroke-width="1.6" stroke-linejoin="round" stroke-linecap="round" />
<path d="M49.87,545.40 L54.67,545.40 L52.27,541.20 Z" fill="#b93189"/>
<path d="M92.30,545.40 L97.10,545.40 L94.70,541.20 Z" fill="#b93189"/>
<path d="M146.70,545.40 L151.50,545.40 L149.10,541.20 Z" fill="#b93189"/>
<path d="M201.10,545.40 L205.90,545.40 L203.50,541.20 Z" fill="#b93189"/>
<line x1="254.25" y1="544.70" x2="257.25" y2="544.70" stroke="#000" stroke-width="0.9" />
<line x1="254.25" y1="537.91" x2="255.85" y2="537.91" stroke="#000" stroke-width="0.9" />
<line x1="254.25" y1="531.12" x2="257.25" y2="531.12" stroke="#000" stroke-width="0.9" />
<line x1="254.25" y1="524.33" x2="255.85" y2="524.33" stroke="#000" stroke-width="0.9" />
<line x1="254.25" y1="517.54" x2="257.25" y2="517.54" stroke="#000" stroke-width="0.9" />
<line x1="254.25" y1="510.75" x2="255.85" y2="510.75" stroke="#000" stroke-width="0.9" />
<line x1="254.25" y1="503.96" x2="257.25" y2="503.96" stroke="#000" stroke-width="0.9" />
<line x1="254.25" y1="497.17" x2="255.85" y2="497.17" stroke="#000" stroke-width="0.9" />
<line x1="254.25" y1="490.38" x2="257.25" y2="490.38" stroke="#000" stroke-width="0.9" />
<line x1="254.25" y1="483.59" x2="255.85" y2="483.59" stroke="#000" stroke-width="0.9" />
<line x1="254.25" y1="476.80" x2="257.25" y2="476.80" stroke="#000" stroke-width="0.9" />
<rect x="254.25" y="476.80" width="189.35" height="67.90" fill="none" stroke="#000" stroke-width="1.1"/>
<text transform="translate(251.85,546.90) scale(0.91,1)" font-size="10.2" text-anchor="end" font-weight="normal" fill="#222" >0</text>
<text transform="translate(251.85,533.32) scale(0.91,1)" font-size="10.2" text-anchor="end" font-weight="normal" fill="#222" >20</text>
<text transform="translate(251.85,519.74) scale(0.91,1)" font-size="10.2" text-anchor="end" font-weight="normal" fill="#222" >40</text>
<text transform="translate(251.85,506.16) scale(0.91,1)" font-size="10.2" text-anchor="end" font-weight="normal" fill="#222" >60</text>
<text transform="translate(251.85,492.58) scale(0.91,1)" font-size="10.2" text-anchor="end" font-weight="normal" fill="#222" >80</text>
<text transform="translate(251.85,479.00) scale(0.91,1)" font-size="10.2" text-anchor="end" font-weight="normal" fill="#222" >100</text>
<text x="234.20" y="508.05" font-size="10.8" text-anchor="middle" font-weight="normal" fill="#222" transform="rotate(-90 234.20 508.05)">Content / %</text>
<line x1="267.70" y1="544.70" x2="267.70" y2="541.70" stroke="#000" stroke-width="0.9" />
<line x1="322.00" y1="544.70" x2="322.00" y2="541.70" stroke="#000" stroke-width="0.9" />
<line x1="375.70" y1="544.70" x2="375.70" y2="541.70" stroke="#000" stroke-width="0.9" />
<line x1="430.50" y1="544.70" x2="430.50" y2="541.70" stroke="#000" stroke-width="0.9" />
<text transform="translate(274.20,557.60) scale(0.85,1)" font-size="10.8" text-anchor="middle" font-weight="normal" fill="#222" >NH<tspan dy="2.70" font-size="5.40">3</tspan><tspan dy="-2.70">+O</tspan><tspan dy="2.70" font-size="5.40">2</tspan></text>
<text transform="translate(324.90,557.60) scale(0.85,1)" font-size="10.8" text-anchor="middle" font-weight="normal" fill="#222" >NH<tspan dy="2.70" font-size="5.40">3</tspan><tspan dy="-2.70"></tspan></text>
<text transform="translate(373.60,557.60) scale(0.85,1)" font-size="10.8" text-anchor="middle" font-weight="normal" fill="#222" >NH<tspan dy="2.70" font-size="5.40">3</tspan><tspan dy="-2.70">+NO</tspan></text>
<text transform="translate(426.00,557.60) scale(0.85,1)" font-size="10.8" text-anchor="middle" font-weight="normal" fill="#222" >NH<tspan dy="2.70" font-size="5.40">3</tspan><tspan dy="-2.70">+O</tspan><tspan dy="2.70" font-size="5.40">2</tspan></text>
<polyline points="267.70,495.13 322.00,532.48 375.70,476.80 430.50,483.59" fill="none" stroke="#4b2a91" stroke-width="1.6" stroke-linejoin="round" stroke-linecap="round" />
<rect x="265.70" y="493.13" width="4.0" height="4.0" fill="#4b2a91"/>
<rect x="320.00" y="530.48" width="4.0" height="4.0" fill="#4b2a91"/>
<rect x="373.70" y="474.80" width="4.0" height="4.0" fill="#4b2a91"/>
<rect x="428.50" y="481.59" width="4.0" height="4.0" fill="#4b2a91"/>
<polyline points="267.70,527.05 322.00,529.76 375.70,544.70 430.50,537.91" fill="none" stroke="#3ccfcf" stroke-width="1.6" stroke-linejoin="round" stroke-linecap="round" />
<circle cx="267.70" cy="527.05" r="2.1" fill="#3ccfcf"/>
<circle cx="322.00" cy="529.76" r="2.1" fill="#3ccfcf"/>
<circle cx="375.70" cy="544.70" r="2.1" fill="#3ccfcf"/>
<circle cx="430.50" cy="537.91" r="2.1" fill="#3ccfcf"/>
<polyline points="267.70,544.70 322.00,503.96 375.70,544.70 430.50,544.70" fill="none" stroke="#b93189" stroke-width="1.6" stroke-linejoin="round" stroke-linecap="round" />
<path d="M265.30,546.50 L270.10,546.50 L267.70,542.30 Z" fill="#b93189"/>
<path d="M319.60,505.76 L324.40,505.76 L322.00,501.56 Z" fill="#b93189"/>
<path d="M373.30,546.50 L378.10,546.50 L375.70,542.30 Z" fill="#b93189"/>
<path d="M428.10,546.50 L432.90,546.50 L430.50,542.30 Z" fill="#b93189"/>
<line x1="487.60" y1="544.70" x2="490.60" y2="544.70" stroke="#000" stroke-width="0.9" />
<line x1="487.60" y1="537.91" x2="489.20" y2="537.91" stroke="#000" stroke-width="0.9" />
<line x1="487.60" y1="531.12" x2="490.60" y2="531.12" stroke="#000" stroke-width="0.9" />
<line x1="487.60" y1="524.33" x2="489.20" y2="524.33" stroke="#000" stroke-width="0.9" />
<line x1="487.60" y1="517.54" x2="490.60" y2="517.54" stroke="#000" stroke-width="0.9" />
<line x1="487.60" y1="510.75" x2="489.20" y2="510.75" stroke="#000" stroke-width="0.9" />
<line x1="487.60" y1="503.96" x2="490.60" y2="503.96" stroke="#000" stroke-width="0.9" />
<line x1="487.60" y1="497.17" x2="489.20" y2="497.17" stroke="#000" stroke-width="0.9" />
<line x1="487.60" y1="490.38" x2="490.60" y2="490.38" stroke="#000" stroke-width="0.9" />
<line x1="487.60" y1="483.59" x2="489.20" y2="483.59" stroke="#000" stroke-width="0.9" />
<line x1="487.60" y1="476.80" x2="490.60" y2="476.80" stroke="#000" stroke-width="0.9" />
<rect x="487.60" y="476.80" width="189.00" height="67.90" fill="none" stroke="#000" stroke-width="1.1"/>
<text transform="translate(485.20,546.90) scale(0.91,1)" font-size="10.2" text-anchor="end" font-weight="normal" fill="#222" >0</text>
<text transform="translate(485.20,533.32) scale(0.91,1)" font-size="10.2" text-anchor="end" font-weight="normal" fill="#222" >20</text>
<text transform="translate(485.20,519.74) scale(0.91,1)" font-size="10.2" text-anchor="end" font-weight="normal" fill="#222" >40</text>
<text transform="translate(485.20,506.16) scale(0.91,1)" font-size="10.2" text-anchor="end" font-weight="normal" fill="#222" >60</text>
<text transform="translate(485.20,492.58) scale(0.91,1)" font-size="10.2" text-anchor="end" font-weight="normal" fill="#222" >80</text>
<text transform="translate(485.20,479.00) scale(0.91,1)" font-size="10.2" text-anchor="end" font-weight="normal" fill="#222" >100</text>
<text x="467.60" y="508.05" font-size="10.8" text-anchor="middle" font-weight="normal" fill="#222" transform="rotate(-90 467.60 508.05)">Content / %</text>
<line x1="501.00" y1="544.70" x2="501.00" y2="541.70" stroke="#000" stroke-width="0.9" />
<line x1="554.70" y1="544.70" x2="554.70" y2="541.70" stroke="#000" stroke-width="0.9" />
<line x1="609.10" y1="544.70" x2="609.10" y2="541.70" stroke="#000" stroke-width="0.9" />
<line x1="663.20" y1="544.70" x2="663.20" y2="541.70" stroke="#000" stroke-width="0.9" />
<text transform="translate(508.40,557.60) scale(0.85,1)" font-size="10.8" text-anchor="middle" font-weight="normal" fill="#222" >NH<tspan dy="2.70" font-size="5.40">3</tspan><tspan dy="-2.70">+O</tspan><tspan dy="2.70" font-size="5.40">2</tspan></text>
<text transform="translate(559.00,557.60) scale(0.85,1)" font-size="10.8" text-anchor="middle" font-weight="normal" fill="#222" >NH<tspan dy="2.70" font-size="5.40">3</tspan><tspan dy="-2.70"></tspan></text>
<text transform="translate(608.60,557.60) scale(0.85,1)" font-size="10.8" text-anchor="middle" font-weight="normal" fill="#222" >NH<tspan dy="2.70" font-size="5.40">3</tspan><tspan dy="-2.70">+NO</tspan></text>
<text transform="translate(660.20,557.60) scale(0.85,1)" font-size="10.8" text-anchor="middle" font-weight="normal" fill="#222" >NH<tspan dy="2.70" font-size="5.40">3</tspan><tspan dy="-2.70">+O</tspan><tspan dy="2.70" font-size="5.40">2</tspan></text>
<polyline points="501.00,489.02 554.70,490.38 609.10,486.31 663.20,484.27" fill="none" stroke="#4b2a91" stroke-width="1.6" stroke-linejoin="round" stroke-linecap="round" />
<rect x="499.00" y="487.02" width="4.0" height="4.0" fill="#4b2a91"/>
<rect x="552.70" y="488.38" width="4.0" height="4.0" fill="#4b2a91"/>
<rect x="607.10" y="484.31" width="4.0" height="4.0" fill="#4b2a91"/>
<rect x="661.20" y="482.27" width="4.0" height="4.0" fill="#4b2a91"/>
<polyline points="501.00,532.48 554.70,531.12 609.10,535.19 663.20,537.23" fill="none" stroke="#3ccfcf" stroke-width="1.6" stroke-linejoin="round" stroke-linecap="round" />
<circle cx="501.00" cy="532.48" r="2.1" fill="#3ccfcf"/>
<circle cx="554.70" cy="531.12" r="2.1" fill="#3ccfcf"/>
<circle cx="609.10" cy="535.19" r="2.1" fill="#3ccfcf"/>
<circle cx="663.20" cy="537.23" r="2.1" fill="#3ccfcf"/>
<polyline points="501.00,544.70 554.70,544.70 609.10,544.70 663.20,544.70" fill="none" stroke="#b93189" stroke-width="1.6" stroke-linejoin="round" stroke-linecap="round" />
<path d="M498.60,546.50 L503.40,546.50 L501.00,542.30 Z" fill="#b93189"/>
<path d="M552.30,546.50 L557.10,546.50 L554.70,542.30 Z" fill="#b93189"/>
<path d="M606.70,546.50 L611.50,546.50 L609.10,542.30 Z" fill="#b93189"/>
<path d="M660.80,546.50 L665.60,546.50 L663.20,542.30 Z" fill="#b93189"/>
</svg></body></html>
